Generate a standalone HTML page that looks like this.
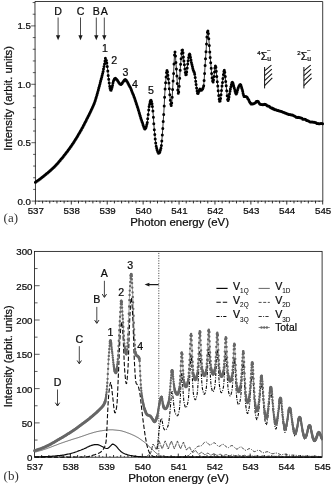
<!DOCTYPE html>
<html><head><meta charset="utf-8"><title>Figure</title>
<style>
html,body{margin:0;padding:0;background:#fff;}
body{width:333px;height:487px;overflow:hidden;}
svg{display:block;}
svg text{font-family:"Liberation Sans",sans-serif;fill:#0c0c0c;stroke:#0c0c0c;stroke-width:0.24px;}
svg text.serif{font-family:"Liberation Serif",serif;stroke-width:0;fill:#333;}
</style></head><body>
<svg width="333" height="487" viewBox="0 0 333 487">
<rect width="333" height="487" fill="#fff"/>
<path d="M34.95 1.5L322.7 1.5L322.8 201.1L35.5 201.1Z" fill="none" stroke="#1a1a1a" stroke-width="0.85"/>
<path d="M35.40 200.80V204.50M38.99 200.80V202.00M42.58 200.80V203.40M46.17 200.80V202.00M49.77 200.80V203.40M53.36 200.80V202.00M56.95 200.80V203.40M60.54 200.80V202.00M64.13 200.80V203.40M67.72 200.80V202.00M71.31 200.80V204.50M74.90 200.80V202.00M78.50 200.80V203.40M82.09 200.80V202.00M85.68 200.80V203.40M89.27 200.80V202.00M92.86 200.80V203.40M96.45 200.80V202.00M100.04 200.80V203.40M103.63 200.80V202.00M107.22 200.80V204.50M110.82 200.80V202.00M114.41 200.80V203.40M118.00 200.80V202.00M121.59 200.80V203.40M125.18 200.80V202.00M128.77 200.80V203.40M132.36 200.80V202.00M135.96 200.80V203.40M139.55 200.80V202.00M143.14 200.80V204.50M146.73 200.80V202.00M150.32 200.80V203.40M153.91 200.80V202.00M157.50 200.80V203.40M161.09 200.80V202.00M164.69 200.80V203.40M168.28 200.80V202.00M171.87 200.80V203.40M175.46 200.80V202.00M179.05 200.80V204.50M182.64 200.80V202.00M186.23 200.80V203.40M189.82 200.80V202.00M193.42 200.80V203.40M197.01 200.80V202.00M200.60 200.80V203.40M204.19 200.80V202.00M207.78 200.80V203.40M211.37 200.80V202.00M214.96 200.80V204.50M218.55 200.80V202.00M222.15 200.80V203.40M225.74 200.80V202.00M229.33 200.80V203.40M232.92 200.80V202.00M236.51 200.80V203.40M240.10 200.80V202.00M243.69 200.80V203.40M247.28 200.80V202.00M250.88 200.80V204.50M254.47 200.80V202.00M258.06 200.80V203.40M261.65 200.80V202.00M265.24 200.80V203.40M268.83 200.80V202.00M272.42 200.80V203.40M276.01 200.80V202.00M279.61 200.80V203.40M283.20 200.80V202.00M286.79 200.80V204.50M290.38 200.80V202.00M293.97 200.80V203.40M297.56 200.80V202.00M301.15 200.80V203.40M304.74 200.80V202.00M308.33 200.80V203.40M311.93 200.80V202.00M315.52 200.80V203.40M319.11 200.80V202.00M322.70 200.80V204.50" stroke="#1a1a1a" stroke-width="0.9" fill="none"/>
<path d="M31.60 201.10H35.80M33.17 189.42H35.77M33.14 177.74H35.74M33.10 166.06H35.70M33.07 154.38H35.67M31.44 142.70H35.64M33.01 131.02H35.61M32.98 119.34H35.58M32.94 107.66H35.54M32.91 95.98H35.51M31.28 84.30H35.48M32.85 72.62H35.45M32.81 60.94H35.41M32.78 49.26H35.38M32.75 37.58H35.35M31.12 25.90H35.32M32.69 14.22H35.29M32.65 2.54H35.25" stroke="#1a1a1a" stroke-width="0.7" fill="none"/>
<text x="35.80" y="214.00" font-size="9.7" text-anchor="middle" >537</text>
<text x="71.71" y="214.00" font-size="9.7" text-anchor="middle" >538</text>
<text x="107.62" y="214.00" font-size="9.7" text-anchor="middle" >539</text>
<text x="143.54" y="214.00" font-size="9.7" text-anchor="middle" >540</text>
<text x="179.45" y="214.00" font-size="9.7" text-anchor="middle" >541</text>
<text x="215.36" y="214.00" font-size="9.7" text-anchor="middle" >542</text>
<text x="251.28" y="214.00" font-size="9.7" text-anchor="middle" >543</text>
<text x="287.19" y="214.00" font-size="9.7" text-anchor="middle" >544</text>
<text x="323.10" y="214.00" font-size="9.7" text-anchor="middle" >545</text>
<text x="30.90" y="204.50" font-size="9.7" text-anchor="end" >0.0</text>
<text x="30.90" y="146.10" font-size="9.7" text-anchor="end" >0.5</text>
<text x="30.90" y="87.70" font-size="9.7" text-anchor="end" >1.0</text>
<text x="30.90" y="29.30" font-size="9.7" text-anchor="end" >1.5</text>
<text x="179.60" y="226.40" font-size="11.4" text-anchor="middle" >Photon energy (eV)</text>
<text transform="translate(11.7,98.4) rotate(-90)" font-size="11.3" text-anchor="middle">Intensity (arbit. units)</text>
<text x="3.6" y="222.2" class="serif" font-size="13.2" textLength="14.4" lengthAdjust="spacingAndGlyphs">(a)</text>
<path d="M35.4 182.3L35.9 182.0L36.3 181.6L36.8 181.3L37.3 181.0L37.7 180.6L38.2 180.3L38.7 179.9L39.2 179.6L39.6 179.2L40.1 178.9L40.6 178.5L41.0 178.2L41.5 177.8L42.0 177.4L42.4 177.1L42.9 176.7L43.4 176.3L43.9 175.9L44.3 175.6L44.8 175.2L45.3 174.8L45.7 174.4L46.2 174.0L46.7 173.6L47.1 173.2L47.6 172.9L48.1 172.5L48.6 172.1L49.0 171.7L49.5 171.3L50.0 170.8L50.4 170.4L50.9 170.0L51.4 169.6L51.8 169.2L52.3 168.7L52.8 168.3L53.3 167.8L53.7 167.4L54.2 166.9L54.7 166.4L55.1 165.9L55.6 165.5L56.1 165.0L56.5 164.5L57.0 163.9L57.5 163.4L58.0 162.9L58.4 162.4L58.9 161.8L59.4 161.3L59.8 160.7L60.3 160.2L60.8 159.6L61.2 159.1L61.7 158.5L62.2 157.9L62.7 157.4L63.1 156.8L63.6 156.2L64.1 155.6L64.5 155.0L65.0 154.4L65.5 153.8L65.9 153.2L66.4 152.6L66.9 152.0L67.4 151.4L67.8 150.7L68.3 150.1L68.8 149.5L69.2 148.8L69.7 148.2L70.2 147.5L70.6 146.8L71.1 146.2L71.6 145.5L72.1 144.8L72.5 144.1L73.0 143.4L73.5 142.7L73.9 142.0L74.4 141.2L74.9 140.5L75.3 139.8L75.8 139.0L76.3 138.3L76.8 137.5L77.2 136.7L77.7 135.9L78.2 135.1L78.6 134.3L79.1 133.5L79.6 132.7L80.0 131.9L80.5 131.1L81.0 130.2L81.5 129.4L81.9 128.6L82.4 127.7L82.9 126.9L83.3 126.0L83.8 125.1L84.3 124.2L84.7 123.3L85.2 122.3L85.7 121.4L86.2 120.5L86.6 119.5L87.1 118.6L87.6 117.7L88.0 116.8L88.5 115.8L89.0 114.9L89.4 113.9L89.9 113.0L90.4 112.0L90.9 111.0L91.3 110.0L91.8 109.1L92.3 108.1L92.7 107.0L93.2 106.0L93.7 104.8L94.1 103.7L94.6 102.4L95.1 101.0L95.6 99.6L96.0 98.1L96.5 96.5L97.0 94.8L97.4 93.2L97.9 91.5L98.4 89.8L98.8 88.0L99.3 86.2L99.8 84.4L100.3 82.6L100.7 80.8L101.2 79.1L101.7 77.3L102.1 75.5L102.6 73.5L103.1 71.4L103.5 69.1L104.0 66.6L104.5 64.0L105.0 61.0L105.4 58.3L106.4 60.4L106.8 62.9L107.3 66.6L107.8 71.0L108.2 75.4L108.7 79.2L109.2 83.0L109.7 86.3L110.1 88.5L110.6 89.9L111.1 90.2L111.5 89.1L112.0 87.6L112.5 85.5L112.9 83.1L113.4 81.2L113.9 80.1L114.4 79.1L114.8 78.4L115.3 78.2L115.8 78.4L116.2 78.9L116.7 79.5L117.2 80.1L117.6 80.7L118.1 81.4L118.6 82.2L119.1 83.0L119.5 83.5L120.0 83.9L120.5 84.3L120.9 84.5L121.9 83.8L122.3 83.0L122.8 82.2L123.3 81.6L123.8 81.0L124.2 80.3L124.7 79.8L125.2 79.5L126.1 80.1L126.6 80.9L127.0 81.6L127.5 82.3L128.0 83.2L128.5 84.2L128.9 85.1L129.4 85.9L129.9 86.7L130.3 87.5L130.8 88.5L131.3 89.7L131.7 91.0L132.2 92.2L132.7 93.4L133.2 94.5L133.6 95.6L134.1 96.9L134.6 98.2L135.0 99.6L135.5 101.0L136.0 102.4L136.4 103.8L136.9 105.3L137.4 106.8L137.9 108.3L138.3 109.8L138.8 111.3L139.3 112.9L139.7 114.5L140.2 116.1L140.7 117.7L141.1 119.2L141.6 120.6L142.1 121.9L142.6 123.3L143.0 124.8L143.5 126.3L144.0 127.5L144.4 128.4L144.9 129.0L145.8 127.9L146.3 126.4L146.8 124.6L147.3 122.4L147.7 118.8L148.2 114.4L148.7 110.1L149.1 106.6L149.6 104.2L150.1 102.1L150.5 100.6L151.0 100.3L151.5 101.5L152.0 103.8L152.4 106.5L152.9 111.1L153.4 117.2L153.8 123.8L154.3 129.7L154.8 134.4L155.2 138.9L155.7 143.0L156.2 146.2L156.7 148.3L157.1 149.9L157.6 151.4L158.1 152.5L158.5 153.2L159.5 152.8L159.9 151.7L160.4 150.1L160.9 148.2L161.4 145.5L161.8 141.0L162.3 135.1L162.8 128.4L163.2 121.5L163.7 114.5L164.2 106.1L164.6 97.2L165.1 88.9L165.6 82.7L166.1 77.0L166.5 72.4L167.0 70.5L167.5 71.9L167.9 75.2L168.4 79.0L168.9 83.1L169.3 88.7L169.8 94.7L170.3 100.2L170.8 104.1L171.2 105.5L171.7 103.0L172.2 97.2L172.6 89.4L173.1 81.0L173.6 73.4L174.0 63.9L174.5 55.0L175.0 52.1L175.5 56.0L175.9 62.6L176.4 68.9L176.9 75.9L177.3 83.5L177.8 89.9L178.3 93.3L178.7 92.0L179.2 86.2L179.7 78.2L180.2 70.2L180.6 64.3L181.1 58.7L181.6 53.5L182.0 50.2L182.5 50.0L183.0 52.7L183.4 57.0L183.9 61.1L184.4 64.8L184.9 68.9L185.3 72.6L185.8 74.8L186.3 74.6L186.7 72.0L187.2 68.0L187.7 63.9L188.1 60.8L188.6 57.6L189.1 54.9L189.6 53.9L190.0 55.0L190.5 57.2L191.0 59.9L191.4 62.4L191.9 64.5L192.4 66.6L192.8 68.6L193.3 70.3L193.8 71.5L194.3 72.6L194.7 74.3L195.2 77.5L195.7 81.3L196.1 84.6L196.6 88.0L197.1 91.1L197.5 93.2L198.0 93.4L198.5 92.6L199.0 91.3L199.4 90.0L199.9 89.1L200.8 89.7L201.3 90.2L201.8 90.0L202.2 89.5L202.7 88.7L203.2 87.6L203.7 85.8L204.1 80.6L204.6 73.4L205.1 65.5L205.5 58.7L206.0 51.7L206.5 44.0L206.9 37.0L207.4 32.2L207.9 30.9L208.4 33.5L208.8 38.7L209.3 45.4L209.8 52.1L210.2 57.6L210.7 62.7L211.2 68.3L211.6 73.6L212.1 78.1L212.6 81.1L213.1 82.0L213.5 80.1L214.0 76.4L214.5 71.9L214.9 68.0L215.4 66.1L215.9 67.2L216.3 71.2L216.8 76.5L217.3 81.8L217.8 86.0L218.2 90.8L218.7 95.5L219.2 99.3L219.6 101.3L220.1 101.0L220.6 98.5L221.0 94.8L221.5 90.4L222.0 86.1L222.5 82.5L222.9 78.5L223.4 74.5L223.9 71.4L224.3 70.3L224.8 72.3L225.3 76.6L225.7 81.4L226.2 85.7L226.7 90.7L227.2 95.8L227.6 99.4L228.1 100.5L228.6 99.3L229.0 96.9L229.5 94.1L230.0 91.3L230.4 89.0L230.9 86.8L231.4 84.5L231.9 82.8L232.3 82.2L232.8 82.8L233.3 84.3L233.7 86.1L234.2 87.7L234.7 89.5L235.1 91.4L235.6 93.1L236.1 94.0L236.6 93.6L237.0 92.2L237.5 90.3L238.0 88.6L238.4 87.4L238.9 86.3L239.4 85.4L239.8 84.8L240.3 84.4L240.8 84.9L241.3 86.4L241.7 88.1L242.2 89.5L242.7 91.3L243.1 93.4L243.6 95.3L244.1 96.4L245.0 96.5L245.5 96.6L246.4 96.8L246.9 97.1L247.4 97.8L247.8 98.7L248.3 99.2L248.8 99.9L249.2 101.2L249.7 101.9L250.2 102.7L250.7 103.4L251.1 103.9L251.6 103.8L252.5 104.0L253.5 103.7L254.4 103.2L255.4 102.7L255.8 102.2L256.3 101.5L256.8 101.6L257.2 101.3L258.2 101.6L258.6 102.3L259.1 103.1L259.6 103.7L260.1 104.3L261.0 104.4L261.9 104.6L262.9 104.7L263.8 104.4L264.8 104.3L265.7 104.6L266.2 104.8L266.6 105.3L267.1 105.7L267.6 106.0L268.0 106.1L268.5 106.3L269.0 106.3L269.5 106.6L269.9 107.0L270.4 107.6L270.9 107.8L271.3 107.9L271.8 108.1L272.3 108.5L272.7 108.3L273.2 108.5L273.7 109.3L274.2 109.1L274.6 109.3L275.1 109.7L275.6 109.7L276.5 110.0L277.4 110.6L278.4 110.5L279.3 111.0L280.3 111.2L281.2 111.6L282.1 111.8L283.1 112.3L284.0 112.4L285.0 113.1L285.9 113.3L286.8 113.7L287.8 114.1L288.7 114.4L289.7 114.6L290.6 114.7L291.5 115.0L292.5 115.1L293.4 115.6L294.4 116.0L295.3 116.6L296.2 117.2L297.2 117.5L298.1 117.3L299.1 117.6L300.0 117.7L300.9 118.0L301.9 118.3L302.8 119.2L303.8 119.3L304.7 119.3L305.6 119.6L306.6 120.4L307.5 120.6L308.5 121.0L309.4 121.5L310.3 121.9L311.3 121.9L312.2 121.9L313.2 122.2L314.1 122.3L315.0 122.5L316.0 122.8L316.9 123.4L317.9 123.6L318.8 123.7L319.7 123.8L320.7 123.6L321.6 123.4L322.6 123.7" stroke="#000" stroke-width="0.8" fill="none" stroke-linejoin="round" />
<path d="M35.4 182.3h0M35.9 182.0h0M36.3 181.6h0M36.8 181.3h0M37.3 181.0h0M37.7 180.6h0M38.2 180.3h0M38.7 179.9h0M39.2 179.6h0M39.6 179.2h0M40.1 178.9h0M40.6 178.5h0M41.0 178.2h0M41.5 177.8h0M42.0 177.4h0M42.4 177.1h0M42.9 176.7h0M43.4 176.3h0M43.9 175.9h0M44.3 175.6h0M44.8 175.2h0M45.3 174.8h0M45.7 174.4h0M46.2 174.0h0M46.7 173.6h0M47.1 173.2h0M47.6 172.9h0M48.1 172.5h0M48.6 172.1h0M49.0 171.7h0M49.5 171.3h0M50.0 170.8h0M50.4 170.4h0M50.9 170.0h0M51.4 169.6h0M51.8 169.2h0M52.3 168.7h0M52.8 168.3h0M53.3 167.8h0M53.7 167.4h0M54.2 166.9h0M54.7 166.4h0M55.1 165.9h0M55.6 165.5h0M56.1 165.0h0M56.5 164.5h0M57.0 163.9h0M57.5 163.4h0M58.0 162.9h0M58.4 162.4h0M58.9 161.8h0M59.4 161.3h0M59.8 160.7h0M60.3 160.2h0M60.8 159.6h0M61.2 159.1h0M61.7 158.5h0M62.2 157.9h0M62.7 157.4h0M63.1 156.8h0M63.6 156.2h0M64.1 155.6h0M64.5 155.0h0M65.0 154.4h0M65.5 153.8h0M65.9 153.2h0M66.4 152.6h0M66.9 152.0h0M67.4 151.4h0M67.8 150.7h0M68.3 150.1h0M68.8 149.5h0M69.2 148.8h0M69.7 148.2h0M70.2 147.5h0M70.6 146.8h0M71.1 146.2h0M71.6 145.5h0M72.1 144.8h0M72.5 144.1h0M73.0 143.4h0M73.5 142.7h0M73.9 142.0h0M74.4 141.2h0M74.9 140.5h0M75.3 139.8h0M75.8 139.0h0M76.3 138.3h0M76.8 137.5h0M77.2 136.7h0M77.7 135.9h0M78.2 135.1h0M78.6 134.3h0M79.1 133.5h0M79.6 132.7h0M80.0 131.9h0M80.5 131.1h0M81.0 130.2h0M81.5 129.4h0M81.9 128.6h0M82.4 127.7h0M82.9 126.9h0M83.3 126.0h0M83.8 125.1h0M84.3 124.2h0M84.7 123.3h0M85.2 122.3h0M85.7 121.4h0M86.2 120.5h0M86.6 119.5h0M87.1 118.6h0M87.6 117.7h0M88.0 116.8h0M88.5 115.8h0M89.0 114.9h0M89.4 113.9h0M89.9 113.0h0M90.4 112.0h0M90.9 111.0h0M91.3 110.0h0M91.8 109.1h0M92.3 108.1h0M92.7 107.0h0M93.2 106.0h0M93.7 104.8h0M94.1 103.7h0M94.6 102.4h0M95.1 101.0h0M95.6 99.6h0M96.0 98.1h0M96.5 96.5h0M97.0 94.8h0M97.4 93.2h0M97.9 91.5h0M98.4 89.8h0M98.8 88.0h0M99.3 86.2h0M99.8 84.4h0M100.3 82.6h0M100.7 80.8h0M101.2 79.1h0M101.7 77.3h0M102.1 75.5h0M102.6 73.5h0M103.1 71.4h0M103.5 69.1h0M104.0 66.6h0M104.5 64.0h0M105.0 61.0h0M105.4 58.3h0M106.4 60.4h0M106.8 62.9h0M107.3 66.6h0M107.8 71.0h0M108.2 75.4h0M108.7 79.2h0M109.2 83.0h0M109.7 86.3h0M110.1 88.5h0M110.6 89.9h0M111.1 90.2h0M111.5 89.1h0M112.0 87.6h0M112.5 85.5h0M112.9 83.1h0M113.4 81.2h0M113.9 80.1h0M114.4 79.1h0M114.8 78.4h0M115.3 78.2h0M115.8 78.4h0M116.2 78.9h0M116.7 79.5h0M117.2 80.1h0M117.6 80.7h0M118.1 81.4h0M118.6 82.2h0M119.1 83.0h0M119.5 83.5h0M120.0 83.9h0M120.5 84.3h0M120.9 84.5h0M121.9 83.8h0M122.3 83.0h0M122.8 82.2h0M123.3 81.6h0M123.8 81.0h0M124.2 80.3h0M124.7 79.8h0M125.2 79.5h0M126.1 80.1h0M126.6 80.9h0M127.0 81.6h0M127.5 82.3h0M128.0 83.2h0M128.5 84.2h0M128.9 85.1h0M129.4 85.9h0M129.9 86.7h0M130.3 87.5h0M130.8 88.5h0M131.3 89.7h0M131.7 91.0h0M132.2 92.2h0M132.7 93.4h0M133.2 94.5h0M133.6 95.6h0M134.1 96.9h0M134.6 98.2h0M135.0 99.6h0M135.5 101.0h0M136.0 102.4h0M136.4 103.8h0M136.9 105.3h0M137.4 106.8h0M137.9 108.3h0M138.3 109.8h0M138.8 111.3h0M139.3 112.9h0M139.7 114.5h0M140.2 116.1h0M140.7 117.7h0M141.1 119.2h0M141.6 120.6h0M142.1 121.9h0M142.6 123.3h0M143.0 124.8h0M143.5 126.3h0M144.0 127.5h0M144.4 128.4h0M144.9 129.0h0M145.8 127.9h0M146.3 126.4h0M146.8 124.6h0M147.3 122.4h0M147.7 118.8h0M148.2 114.4h0M148.7 110.1h0M149.1 106.6h0M149.6 104.2h0M150.1 102.1h0M150.5 100.6h0M151.0 100.3h0M151.5 101.5h0M152.0 103.8h0M152.4 106.5h0M152.9 111.1h0M153.4 117.2h0M153.8 123.8h0M154.3 129.7h0M154.8 134.4h0M155.2 138.9h0M155.7 143.0h0M156.2 146.2h0M156.7 148.3h0M157.1 149.9h0M157.6 151.4h0M158.1 152.5h0M158.5 153.2h0M159.5 152.8h0M159.9 151.7h0M160.4 150.1h0M160.9 148.2h0M161.4 145.5h0M161.8 141.0h0M162.3 135.1h0M162.8 128.4h0M163.2 121.5h0M163.7 114.5h0M164.2 106.1h0M164.6 97.2h0M165.1 88.9h0M165.6 82.7h0M166.1 77.0h0M166.5 72.4h0M167.0 70.5h0M167.5 71.9h0M167.9 75.2h0M168.4 79.0h0M168.9 83.1h0M169.3 88.7h0M169.8 94.7h0M170.3 100.2h0M170.8 104.1h0M171.2 105.5h0M171.7 103.0h0M172.2 97.2h0M172.6 89.4h0M173.1 81.0h0M173.6 73.4h0M174.0 63.9h0M174.5 55.0h0M175.0 52.1h0M175.5 56.0h0M175.9 62.6h0M176.4 68.9h0M176.9 75.9h0M177.3 83.5h0M177.8 89.9h0M178.3 93.3h0M178.7 92.0h0M179.2 86.2h0M179.7 78.2h0M180.2 70.2h0M180.6 64.3h0M181.1 58.7h0M181.6 53.5h0M182.0 50.2h0M182.5 50.0h0M183.0 52.7h0M183.4 57.0h0M183.9 61.1h0M184.4 64.8h0M184.9 68.9h0M185.3 72.6h0M185.8 74.8h0M186.3 74.6h0M186.7 72.0h0M187.2 68.0h0M187.7 63.9h0M188.1 60.8h0M188.6 57.6h0M189.1 54.9h0M189.6 53.9h0M190.0 55.0h0M190.5 57.2h0M191.0 59.9h0M191.4 62.4h0M191.9 64.5h0M192.4 66.6h0M192.8 68.6h0M193.3 70.3h0M193.8 71.5h0M194.3 72.6h0M194.7 74.3h0M195.2 77.5h0M195.7 81.3h0M196.1 84.6h0M196.6 88.0h0M197.1 91.1h0M197.5 93.2h0M198.0 93.4h0M198.5 92.6h0M199.0 91.3h0M199.4 90.0h0M199.9 89.1h0M200.8 89.7h0M201.3 90.2h0M201.8 90.0h0M202.2 89.5h0M202.7 88.7h0M203.2 87.6h0M203.7 85.8h0M204.1 80.6h0M204.6 73.4h0M205.1 65.5h0M205.5 58.7h0M206.0 51.7h0M206.5 44.0h0M206.9 37.0h0M207.4 32.2h0M207.9 30.9h0M208.4 33.5h0M208.8 38.7h0M209.3 45.4h0M209.8 52.1h0M210.2 57.6h0M210.7 62.7h0M211.2 68.3h0M211.6 73.6h0M212.1 78.1h0M212.6 81.1h0M213.1 82.0h0M213.5 80.1h0M214.0 76.4h0M214.5 71.9h0M214.9 68.0h0M215.4 66.1h0M215.9 67.2h0M216.3 71.2h0M216.8 76.5h0M217.3 81.8h0M217.8 86.0h0M218.2 90.8h0M218.7 95.5h0M219.2 99.3h0M219.6 101.3h0M220.1 101.0h0M220.6 98.5h0M221.0 94.8h0M221.5 90.4h0M222.0 86.1h0M222.5 82.5h0M222.9 78.5h0M223.4 74.5h0M223.9 71.4h0M224.3 70.3h0M224.8 72.3h0M225.3 76.6h0M225.7 81.4h0M226.2 85.7h0M226.7 90.7h0M227.2 95.8h0M227.6 99.4h0M228.1 100.5h0M228.6 99.3h0M229.0 96.9h0M229.5 94.1h0M230.0 91.3h0M230.4 89.0h0M230.9 86.8h0M231.4 84.5h0M231.9 82.8h0M232.3 82.2h0M232.8 82.8h0M233.3 84.3h0M233.7 86.1h0M234.2 87.7h0M234.7 89.5h0M235.1 91.4h0M235.6 93.1h0M236.1 94.0h0M236.6 93.6h0M237.0 92.2h0M237.5 90.3h0M238.0 88.6h0M238.4 87.4h0M238.9 86.3h0M239.4 85.4h0M239.8 84.8h0M240.3 84.4h0M240.8 84.9h0M241.3 86.4h0M241.7 88.1h0M242.2 89.5h0M242.7 91.3h0M243.1 93.4h0M243.6 95.3h0M244.1 96.4h0M245.0 96.5h0M245.5 96.6h0M246.4 96.8h0M246.9 97.1h0M247.4 97.8h0M247.8 98.7h0M248.3 99.2h0M248.8 99.9h0M249.2 101.2h0M249.7 101.9h0M250.2 102.7h0M250.7 103.4h0M251.1 103.9h0M251.6 103.8h0M252.5 104.0h0M253.5 103.7h0M254.4 103.2h0M255.4 102.7h0M255.8 102.2h0M256.3 101.5h0M256.8 101.6h0M257.2 101.3h0M258.2 101.6h0M258.6 102.3h0M259.1 103.1h0M259.6 103.7h0M260.1 104.3h0M261.0 104.4h0M261.9 104.6h0M262.9 104.7h0M263.8 104.4h0M264.8 104.3h0M265.7 104.6h0M266.2 104.8h0M266.6 105.3h0M267.1 105.7h0M267.6 106.0h0M268.0 106.1h0M268.5 106.3h0M269.0 106.3h0M269.5 106.6h0M269.9 107.0h0M270.4 107.6h0M270.9 107.8h0M271.3 107.9h0M271.8 108.1h0M272.3 108.5h0M272.7 108.3h0M273.2 108.5h0M273.7 109.3h0M274.2 109.1h0M274.6 109.3h0M275.1 109.7h0M275.6 109.7h0M276.5 110.0h0M277.4 110.6h0M278.4 110.5h0M279.3 111.0h0M280.3 111.2h0M281.2 111.6h0M282.1 111.8h0M283.1 112.3h0M284.0 112.4h0M285.0 113.1h0M285.9 113.3h0M286.8 113.7h0M287.8 114.1h0M288.7 114.4h0M289.7 114.6h0M290.6 114.7h0M291.5 115.0h0M292.5 115.1h0M293.4 115.6h0M294.4 116.0h0M295.3 116.6h0M296.2 117.2h0M297.2 117.5h0M298.1 117.3h0M299.1 117.6h0M300.0 117.7h0M300.9 118.0h0M301.9 118.3h0M302.8 119.2h0M303.8 119.3h0M304.7 119.3h0M305.6 119.6h0M306.6 120.4h0M307.5 120.6h0M308.5 121.0h0M309.4 121.5h0M310.3 121.9h0M311.3 121.9h0M312.2 121.9h0M313.2 122.2h0M314.1 122.3h0M315.0 122.5h0M316.0 122.8h0M316.9 123.4h0M317.9 123.6h0M318.8 123.7h0M319.7 123.8h0M320.7 123.6h0M321.6 123.4h0M322.6 123.7h0" stroke="#000" stroke-width="3.0" stroke-linecap="round" fill="none"/>
<text x="58.10" y="14.50" font-size="10.6" text-anchor="middle" >D</text>
<path d="M58.10 17.50V36.20" stroke="#1a1a1a" stroke-width="0.8" fill="none"/>
<path d="M55.95 35.20L60.25 35.20L58.10 40.20Z" fill="#1a1a1a"/>
<text x="80.50" y="14.50" font-size="10.6" text-anchor="middle" >C</text>
<path d="M80.50 17.50V36.20" stroke="#1a1a1a" stroke-width="0.8" fill="none"/>
<path d="M78.35 35.20L82.65 35.20L80.50 40.20Z" fill="#1a1a1a"/>
<text x="96.30" y="14.50" font-size="10.6" text-anchor="middle" >B</text>
<path d="M96.30 17.50V36.20" stroke="#1a1a1a" stroke-width="0.8" fill="none"/>
<path d="M94.15 35.20L98.45 35.20L96.30 40.20Z" fill="#1a1a1a"/>
<text x="104.30" y="14.50" font-size="10.6" text-anchor="middle" >A</text>
<path d="M104.30 17.50V36.20" stroke="#1a1a1a" stroke-width="0.8" fill="none"/>
<path d="M102.15 35.20L106.45 35.20L104.30 40.20Z" fill="#1a1a1a"/>
<text x="105.00" y="51.70" font-size="10.6" text-anchor="middle" >1</text>
<text x="114.20" y="63.60" font-size="10.6" text-anchor="middle" >2</text>
<text x="125.50" y="76.00" font-size="10.6" text-anchor="middle" >3</text>
<text x="135.00" y="88.20" font-size="10.6" text-anchor="middle" >4</text>
<text x="151.00" y="93.60" font-size="10.6" text-anchor="middle" >5</text>
<path d="M264.60 67V88.4" stroke="#111" stroke-width="1.0"/>
<path d="M264.6 70.8l6.8 -5.7M264.6 75.6l7.2 -6.4M264.6 80.6l7.5 -7M264.6 85.6l7.7 -7.8" stroke="#111" stroke-width="1.05"/>
<path d="M303.90 67V88.4" stroke="#111" stroke-width="1.0"/>
<path d="M303.9 70.8l6.8 -5.7M303.9 75.6l7.2 -6.4M303.9 80.6l7.5 -7M303.9 85.6l7.7 -7.8" stroke="#111" stroke-width="1.05"/>
<text x="257.20" y="59.5" font-size="10.4" text-anchor="start"><tspan font-size="6" dy="-4.6">4</tspan><tspan dy="4.6" dx="0.3">Σ</tspan><tspan font-size="6.5" dy="-6.2" dx="-0.3">−</tspan><tspan font-size="6.8" dy="7.4" dx="-3.6">u</tspan></text>
<text x="297.20" y="59.5" font-size="10.4" text-anchor="start"><tspan font-size="6" dy="-4.6">2</tspan><tspan dy="4.6" dx="0.3">Σ</tspan><tspan font-size="6.5" dy="-6.2" dx="-0.3">−</tspan><tspan font-size="6.8" dy="7.4" dx="-3.6">u</tspan></text>
<rect x="34.45" y="251.4" width="287.65" height="205.80" fill="none" stroke="#1a1a1a" stroke-width="0.85"/>
<path d="M38.05 457.20v-1.0M41.64 457.20v-2.2M45.24 457.20v-1.0M48.83 457.20v-2.2M52.43 457.20v-1.0M56.02 457.20v-2.2M59.62 457.20v-1.0M63.22 457.20v-2.2M66.81 457.20v-1.0M70.41 457.20v-3.6M74.00 457.20v-1.0M77.60 457.20v-2.2M81.19 457.20v-1.0M84.79 457.20v-2.2M88.38 457.20v-1.0M91.98 457.20v-2.2M95.58 457.20v-1.0M99.17 457.20v-2.2M102.77 457.20v-1.0M106.36 457.20v-3.6M109.96 457.20v-1.0M113.55 457.20v-2.2M117.15 457.20v-1.0M120.75 457.20v-2.2M124.34 457.20v-1.0M127.94 457.20v-2.2M131.53 457.20v-1.0M135.13 457.20v-2.2M138.72 457.20v-1.0M142.32 457.20v-3.6M145.91 457.20v-1.0M149.51 457.20v-2.2M153.11 457.20v-1.0M156.70 457.20v-2.2M160.30 457.20v-1.0M163.89 457.20v-2.2M167.49 457.20v-1.0M171.08 457.20v-2.2M174.68 457.20v-1.0M178.28 457.20v-3.6M181.87 457.20v-1.0M185.47 457.20v-2.2M189.06 457.20v-1.0M192.66 457.20v-2.2M196.25 457.20v-1.0M199.85 457.20v-2.2M203.44 457.20v-1.0M207.04 457.20v-2.2M210.64 457.20v-1.0M214.23 457.20v-3.6M217.83 457.20v-1.0M221.42 457.20v-2.2M225.02 457.20v-1.0M228.61 457.20v-2.2M232.21 457.20v-1.0M235.81 457.20v-2.2M239.40 457.20v-1.0M243.00 457.20v-2.2M246.59 457.20v-1.0M250.19 457.20v-3.6M253.78 457.20v-1.0M257.38 457.20v-2.2M260.97 457.20v-1.0M264.57 457.20v-2.2M268.17 457.20v-1.0M271.76 457.20v-2.2M275.36 457.20v-1.0M278.95 457.20v-2.2M282.55 457.20v-1.0M286.14 457.20v-3.6M289.74 457.20v-1.0M293.34 457.20v-2.2M296.93 457.20v-1.0M300.53 457.20v-2.2M304.12 457.20v-1.0M307.72 457.20v-2.2M311.31 457.20v-1.0M314.91 457.20v-2.2M318.50 457.20v-1.0" stroke="#1a1a1a" stroke-width="0.9" fill="none"/>
<path d="M34.45 440.05h3.1M34.45 422.90h5.2M34.45 405.75h3.1M34.45 388.60h5.2M34.45 371.45h3.1M34.45 354.30h5.2M34.45 337.15h3.1M34.45 320.00h5.2M34.45 302.85h3.1M34.45 285.70h5.2M34.45 268.55h3.1" stroke="#1a1a1a" stroke-width="0.7" fill="none"/>
<text x="34.95" y="470.00" font-size="9.7" text-anchor="middle" >537</text>
<text x="70.91" y="470.00" font-size="9.7" text-anchor="middle" >538</text>
<text x="106.86" y="470.00" font-size="9.7" text-anchor="middle" >539</text>
<text x="142.82" y="470.00" font-size="9.7" text-anchor="middle" >540</text>
<text x="178.78" y="470.00" font-size="9.7" text-anchor="middle" >541</text>
<text x="214.73" y="470.00" font-size="9.7" text-anchor="middle" >542</text>
<text x="250.69" y="470.00" font-size="9.7" text-anchor="middle" >543</text>
<text x="286.64" y="470.00" font-size="9.7" text-anchor="middle" >544</text>
<text x="322.60" y="470.00" font-size="9.7" text-anchor="middle" >545</text>
<text x="32.50" y="461.20" font-size="9.7" text-anchor="end" >0</text>
<text x="32.50" y="426.90" font-size="9.7" text-anchor="end" >50</text>
<text x="32.50" y="392.60" font-size="9.7" text-anchor="end" >100</text>
<text x="32.50" y="358.30" font-size="9.7" text-anchor="end" >150</text>
<text x="32.50" y="324.00" font-size="9.7" text-anchor="end" >200</text>
<text x="32.50" y="289.70" font-size="9.7" text-anchor="end" >250</text>
<text x="32.50" y="255.40" font-size="9.7" text-anchor="end" >300</text>
<text x="178.60" y="482.40" font-size="11.6" text-anchor="middle" >Photon energy (eV)</text>
<text transform="translate(11.8,356.3) rotate(-90)" font-size="11" text-anchor="middle">Intensity (arbit. units)</text>
<text x="3.6" y="480.4" class="serif" font-size="13.2" textLength="15.2" lengthAdjust="spacingAndGlyphs">(b)</text>
<path d="M158.8 252.9V457.2" stroke="#222" stroke-width="0.9" stroke-dasharray="1 1.5"/>
<path d="M158.6 284.6H148.6" stroke="#1a1a1a" stroke-width="1.25"/><path d="M144.6 284.6l4.8 -1.9v3.8z" fill="#1a1a1a"/>
<path d="M34.6 452.2L35.6 451.9L36.6 451.7L37.6 451.4L38.6 451.1L39.6 450.8L40.6 450.6L41.6 450.3L42.6 450.0L43.6 449.6L44.6 449.3L45.6 449.0L46.6 448.7L47.6 448.3L48.6 447.9L49.6 447.6L50.6 447.2L51.6 446.8L52.6 446.4L53.6 446.0L54.6 445.6L55.6 445.3L56.6 444.9L57.6 444.5L58.6 444.1L59.6 443.7L60.6 443.4L61.6 443.0L62.6 442.7L63.6 442.3L64.6 442.0L65.6 441.6L66.6 441.3L67.6 441.0L68.6 440.6L69.6 440.3L70.6 440.0L71.6 439.6L72.6 439.3L73.6 439.0L74.6 438.7L75.6 438.4L76.6 438.1L77.6 437.8L78.6 437.5L79.6 437.1L80.6 436.8L81.6 436.5L82.6 436.1L83.6 435.8L84.6 435.4L85.6 435.1L86.6 434.7L87.6 434.4L88.6 434.0L89.6 433.7L90.6 433.4L91.6 433.1L92.6 432.8L93.6 432.5L94.6 432.2L95.6 432.0L96.6 431.7L97.6 431.5L98.6 431.3L99.6 431.1L100.6 430.9L101.6 430.8L102.6 430.6L103.6 430.5L104.6 430.3L105.6 430.2L106.6 430.1L107.6 430.0L108.6 429.9L109.6 429.8L110.6 429.8L111.6 429.8L112.6 429.8L113.6 429.9L114.6 430.0L115.6 430.1L116.6 430.2L117.6 430.3L118.6 430.4L119.6 430.5L120.6 430.7L121.6 430.9L122.6 431.2L123.6 431.5L124.6 431.8L125.6 432.1L126.6 432.5L127.6 432.9L128.6 433.2L129.6 433.6L130.6 434.0L131.6 434.4L132.6 434.9L133.6 435.3L134.6 435.8L135.6 436.3L136.6 436.9L137.6 437.4L138.6 438.0L139.6 438.7L140.6 439.4L141.6 440.1L142.6 440.8L143.6 441.6L144.6 442.3L145.6 443.2L146.6 444.1L147.6 445.0L148.6 446.0L149.6 447.0L150.6 448.0L151.6 448.9L152.6 449.9L153.6 450.7L154.6 451.7L155.6 452.6L156.6 453.4L157.6 454.2L158.6 454.8L159.6 455.2L160.6 455.6L161.6 456.0L162.6 456.3L163.6 456.6L164.6 456.7L165.6 456.7L166.6 456.7L167.6 456.7L168.6 456.7L169.6 456.7L170.6 456.7L171.6 456.8L172.6 456.8L173.6 456.8L174.6 456.8L175.6 456.8L176.6 456.8L177.6 456.8L178.6 456.8L179.6 456.8L180.6 456.8L181.6 456.8L182.6 456.8L183.6 456.8L184.6 456.9L185.6 456.9L186.6 456.9L187.6 456.9L188.6 456.9L189.6 456.9L190.6 456.9L191.6 456.9L192.6 456.9L193.6 456.9L194.6 456.9L195.6 456.9L196.6 456.9L197.6 456.9L198.6 456.9L199.6 457.0L200.6 457.0L201.6 457.0L202.6 457.0L203.6 457.0L204.6 457.0L205.6 457.0L206.6 457.0L207.6 457.0L208.6 457.0L209.6 457.0L210.6 457.0L211.6 457.0L212.6 457.0L213.6 457.0L214.6 457.0L215.6 457.0L216.6 457.0L217.6 457.0L218.6 457.0L219.6 457.0L220.6 457.1L221.6 457.1L222.6 457.1L223.6 457.1L224.6 457.1L225.6 457.1L226.6 457.1L227.6 457.1L228.6 457.1L229.6 457.1L230.6 457.1L231.6 457.1L232.6 457.1L233.6 457.1L234.6 457.1L235.6 457.1L236.6 457.1L237.6 457.1L238.6 457.1L239.6 457.1L240.6 457.1L241.6 457.1L242.6 457.1L243.6 457.1L244.6 457.1L245.6 457.1L246.6 457.1L247.6 457.1L248.6 457.1L249.6 457.1L250.6 457.1L251.6 457.1L252.6 457.1L253.6 457.1L254.6 457.2L255.6 457.2L256.6 457.2L257.6 457.2L258.6 457.2L259.6 457.2L260.6 457.2L261.6 457.2L262.6 457.2L263.6 457.2L264.6 457.2L265.6 457.2L266.6 457.2L267.6 457.2L268.6 457.2L269.6 457.2L270.6 457.2L271.6 457.2L272.6 457.2L273.6 457.2L274.6 457.2L275.6 457.2L276.6 457.2L277.6 457.2L278.6 457.2L279.6 457.2L280.6 457.2L281.6 457.2L282.6 457.2L283.6 457.2L284.6 457.2L285.6 457.2L286.6 457.2L287.6 457.2L288.6 457.2L289.6 457.2L290.6 457.2L291.6 457.2L292.6 457.2L293.6 457.2L294.6 457.2L295.6 457.2L296.6 457.2L297.6 457.2L298.6 457.2L299.6 457.2L300.6 457.2L301.6 457.2L302.6 457.2L303.6 457.2L304.6 457.2L305.6 457.2L306.6 457.2L307.6 457.2L308.6 457.2L309.6 457.2L310.6 457.2L311.6 457.2L312.6 457.2L313.6 457.2L314.6 457.2L315.6 457.2L316.6 457.2L317.6 457.2L318.6 457.2L319.6 457.2L320.6 457.2L321.6 457.2" stroke="#4a4a4a" stroke-width="0.85" fill="none" stroke-linejoin="round" />
<path d="M34.6 456.9L35.6 456.9L36.6 456.9L37.6 456.9L38.6 456.9L39.6 456.8L40.6 456.8L41.6 456.8L42.6 456.7L43.6 456.7L44.6 456.7L45.6 456.6L46.6 456.6L47.6 456.5L48.6 456.5L49.6 456.4L50.6 456.4L51.6 456.3L52.6 456.2L53.6 456.2L54.6 456.1L55.6 456.0L56.6 455.9L57.6 455.7L58.6 455.6L59.6 455.5L60.6 455.4L61.6 455.3L62.6 455.1L63.6 455.0L64.6 454.8L65.6 454.6L66.6 454.4L67.6 454.2L68.6 454.0L69.6 453.8L70.6 453.6L71.6 453.3L72.6 453.0L73.6 452.7L74.6 452.4L75.6 452.0L76.6 451.7L77.6 451.3L78.6 450.9L79.6 450.5L80.6 450.2L81.6 449.8L82.6 449.4L83.6 449.0L84.6 448.5L85.6 448.1L86.6 447.6L87.6 447.0L88.6 446.6L89.6 446.1L90.6 445.7L91.6 445.4L92.6 445.1L93.6 444.8L94.6 444.6L95.6 444.5L96.6 444.6L97.6 444.7L98.6 444.9L99.6 445.2L100.6 445.7L101.6 446.3L102.6 446.8L103.6 447.3L104.6 447.8L105.6 448.2L106.6 448.5L107.6 448.5L108.6 447.8L109.6 446.8L110.6 445.8L111.6 444.8L112.6 444.1L113.6 444.3L114.6 444.9L115.6 445.7L116.6 446.7L117.6 447.9L118.6 449.1L119.6 450.2L120.6 451.2L121.6 452.1L122.6 452.7L123.6 453.2L124.6 453.7L125.6 454.1L126.6 454.4L127.6 454.8L128.6 455.0L129.6 455.3L130.6 455.5L131.6 455.7L132.6 455.9L133.6 456.1L134.6 456.3L135.6 456.4L136.6 456.4L137.6 456.5L138.6 456.6L139.6 456.6L140.6 456.7L141.6 456.8L142.6 456.8L143.6 456.9L144.6 456.9L145.6 456.9L146.6 457.0L147.6 457.0L148.6 457.0L149.6 457.0L150.6 457.0L151.6 457.0L152.6 457.0L153.6 457.0L154.6 457.0L155.6 457.0L156.6 457.0L157.6 457.0L158.6 457.0L159.6 457.0L160.6 457.0L161.6 457.0L162.6 457.0L163.6 457.0L164.6 457.0L165.6 457.0L166.6 457.0L167.6 457.0L168.6 457.1L169.6 457.1L170.6 457.1L171.6 457.1L172.6 457.1L173.6 457.1L174.6 457.1L175.6 457.1L176.6 457.1L177.6 457.1L178.6 457.1L179.6 457.1L180.6 457.1L181.6 457.1L182.6 457.1L183.6 457.1L184.6 457.1L185.6 457.1L186.6 457.1L187.6 457.1L188.6 457.1L189.6 457.1L190.6 457.1L191.6 457.1L192.6 457.1L193.6 457.1L194.6 457.1L195.6 457.1L196.6 457.1L197.6 457.1L198.6 457.1L199.6 457.1L200.6 457.1L201.6 457.1L202.6 457.1L203.6 457.1L204.6 457.1L205.6 457.1L206.6 457.1L207.6 457.1L208.6 457.1L209.6 457.1L210.6 457.1L211.6 457.1L212.6 457.1L213.6 457.1L214.6 457.1L215.6 457.1L216.6 457.1L217.6 457.1L218.6 457.1L219.6 457.1L220.6 457.1L221.6 457.2L222.6 457.2L223.6 457.2L224.6 457.2L225.6 457.2L226.6 457.2L227.6 457.2L228.6 457.2L229.6 457.2L230.6 457.2L231.6 457.2L232.6 457.2L233.6 457.2L234.6 457.2L235.6 457.2L236.6 457.2L237.6 457.2L238.6 457.2L239.6 457.2L240.6 457.2L241.6 457.2L242.6 457.2L243.6 457.2L244.6 457.2L245.6 457.2L246.6 457.2L247.6 457.2L248.6 457.2L249.6 457.2L250.6 457.2L251.6 457.2L252.6 457.2L253.6 457.2L254.6 457.2L255.6 457.2L256.6 457.2L257.6 457.2L258.6 457.2L259.6 457.2L260.6 457.2L261.6 457.2L262.6 457.2L263.6 457.2L264.6 457.2L265.6 457.2L266.6 457.2L267.6 457.2L268.6 457.2L269.6 457.2L270.6 457.2L271.6 457.2L272.6 457.2L273.6 457.2L274.6 457.2L275.6 457.2L276.6 457.2L277.6 457.2L278.6 457.2L279.6 457.2L280.6 457.2L281.6 457.2L282.6 457.2L283.6 457.2L284.6 457.2L285.6 457.2L286.6 457.2L287.6 457.2L288.6 457.2L289.6 457.2L290.6 457.2L291.6 457.2L292.6 457.2L293.6 457.2L294.6 457.2L295.6 457.2L296.6 457.2L297.6 457.2L298.6 457.2L299.6 457.2L300.6 457.2L301.6 457.2L302.6 457.2L303.6 457.2L304.6 457.2L305.6 457.2L306.6 457.2L307.6 457.2L308.6 457.2L309.6 457.2L310.6 457.2L311.6 457.2L312.6 457.2L313.6 457.2L314.6 457.2L315.6 457.2L316.6 457.2L317.6 457.2L318.6 457.2L319.6 457.2L320.6 457.2L321.6 457.2" stroke="#0a0a0a" stroke-width="1.2" fill="none" stroke-linejoin="round" />
<path d="M146.0 457.2L146.2 457.0L146.5 456.8L146.8 456.5L147.0 456.2L147.2 455.9L147.5 455.7L147.8 455.4L148.0 455.2L148.2 455.0L148.5 454.9L148.8 454.7L149.0 454.6L149.2 454.6L149.5 454.6L149.8 454.6L150.0 454.6L150.2 454.0L150.5 453.3L150.8 452.6L151.0 451.8L151.2 450.9L151.5 449.9L151.8 449.0L152.0 448.0L152.2 447.0L152.5 446.0L152.8 445.0L153.0 444.0L153.2 444.3L153.5 444.6L153.8 444.9L154.0 445.3L154.2 445.6L154.5 446.0L154.8 446.5L155.0 446.9L155.2 447.4L155.5 448.0L155.8 448.5L156.0 449.2L156.2 448.8L156.5 448.1L156.8 447.4L157.0 446.7L157.2 446.0L157.5 445.3L157.8 444.6L158.0 443.9L158.2 443.3L158.5 442.6L158.8 441.9L159.0 441.2L159.2 441.3L159.5 442.0L159.8 442.7L160.0 443.3L160.2 444.0L160.5 444.7L160.8 445.3L161.0 446.0L161.2 446.7L161.5 447.3L161.8 448.0L162.0 448.7L162.2 448.8L162.5 448.1L162.8 447.4L163.0 446.7L163.2 446.1L163.5 445.4L163.8 444.7L164.0 444.0L164.2 443.3L164.5 442.7L164.8 442.0L165.0 441.3L165.2 440.9L165.5 441.6L165.8 442.2L166.0 442.9L166.2 443.6L166.5 444.3L166.8 444.9L167.0 445.6L167.2 446.3L167.5 447.0L167.8 447.6L168.0 448.3L168.2 449.0L168.5 448.3L168.8 447.6L169.0 446.9L169.2 446.3L169.5 445.6L169.8 444.9L170.0 444.2L170.2 443.6L170.5 442.9L170.8 442.2L171.0 441.5L171.2 440.9L171.5 441.3L171.8 442.0L172.0 442.6L172.2 443.3L172.5 444.0L172.8 444.7L173.0 445.3L173.2 446.0L173.5 446.7L173.8 447.4L174.0 448.0L174.2 448.7L174.5 448.6L174.8 447.9L175.0 447.2L175.2 446.6L175.5 445.9L175.8 445.2L176.0 444.6L176.2 443.9L176.5 443.3L176.8 442.6L177.0 442.0L177.2 441.3L177.5 441.2L177.8 441.9L178.0 442.5L178.2 443.2L178.5 443.9L178.8 444.5L179.0 445.2L179.2 445.8L179.5 446.5L179.8 447.2L180.0 447.8L180.2 448.5L180.5 448.9L180.8 448.2L181.0 447.6L181.2 447.0L181.5 446.4L181.8 445.8L182.0 445.3L182.2 444.7L182.5 444.2L182.8 443.6L183.0 443.1L183.2 442.6L183.5 442.1L183.8 442.9L184.0 443.6L184.2 444.3L184.5 444.9L184.8 445.6L185.0 446.3L185.2 446.9L185.5 447.6L185.8 448.2L186.0 448.8L186.2 449.4L186.5 450.0L186.8 449.8L187.0 449.4L187.2 449.0L187.5 448.7L187.8 448.4L188.0 448.1L188.2 447.8L188.5 447.6L188.8 447.4L189.0 447.2L189.2 447.1L189.5 447.0L189.8 447.3L190.0 447.9L190.2 448.5L190.5 449.0L190.8 449.5L191.0 450.0L191.2 450.5L191.5 450.9L191.8 451.3L192.0 451.7L192.2 452.0L192.5 452.4L192.8 452.5L193.0 452.3L193.2 452.2L193.5 452.0L193.8 451.8L194.0 451.6L194.2 451.5L194.5 451.3L194.8 451.2L195.0 451.0L195.2 450.8L195.5 450.7L195.8 450.6L196.0 450.9L196.2 451.3L196.5 451.6L196.8 451.9L197.0 452.2L197.2 452.5L197.5 452.8L197.8 453.1L198.0 453.4L198.2 453.7L198.5 454.0L198.8 454.3L199.0 454.1L199.2 453.9L199.5 453.7L199.8 453.5L200.0 453.3L200.2 453.1L200.5 453.0L200.8 452.8L201.0 452.6L201.2 452.4L201.5 452.3L201.8 452.1L202.0 452.3L202.2 452.5L202.5 452.8L202.8 453.0L203.0 453.3L203.2 453.5L203.5 453.7L203.8 454.0L204.0 454.2L204.2 454.4L204.5 454.6L204.8 454.8L205.0 454.8L205.2 454.7L205.5 454.5L205.8 454.3L206.0 454.2L206.2 454.0L206.5 453.8L206.8 453.7L207.0 453.5L207.2 453.4L207.5 453.3L207.8 453.1L208.0 453.1L208.2 453.3L208.5 453.5L208.8 453.7L209.0 453.9L209.2 454.1L209.5 454.3L209.8 454.5L210.0 454.6L210.2 454.8L210.5 455.0L210.8 455.2L211.0 455.3L211.2 455.1L211.5 455.0L211.8 454.9L212.0 454.7L212.2 454.6L212.5 454.4L212.8 454.3L213.0 454.2L213.2 454.1L213.5 453.9L213.8 453.8L214.0 453.7L214.2 453.9L214.5 454.0L214.8 454.2L215.0 454.3L215.2 454.5L215.5 454.6L215.8 454.8L216.0 454.9L216.2 455.1L216.5 455.2L216.8 455.4L217.0 455.5L217.2 455.5L217.5 455.3L217.8 455.2L218.0 455.1L218.2 455.0L218.5 454.9L218.8 454.8L219.0 454.6L219.2 454.5L219.5 454.4L219.8 454.3L220.0 454.2L220.2 454.2L220.5 454.4L220.8 454.5L221.0 454.7L221.2 454.8L221.5 454.9L221.8 455.1L222.0 455.2L222.2 455.3L222.5 455.4L222.8 455.6L223.0 455.7L223.2 455.7L223.5 455.6L223.8 455.5L224.0 455.4L224.2 455.3L224.5 455.2L224.8 455.1L225.0 455.0L225.2 454.9L225.5 454.8L225.8 454.7L226.0 454.6L226.2 454.6L226.5 454.7L226.8 454.8L227.0 454.9L227.2 455.0L227.5 455.2L227.8 455.3L228.0 455.4L228.2 455.5L228.5 455.6L228.8 455.7L229.0 455.8L229.2 455.9L229.5 455.8L229.8 455.7L230.0 455.7L230.2 455.6L230.5 455.5L230.8 455.4L231.0 455.3L231.2 455.2L231.5 455.1L231.8 455.0L232.0 454.9L232.2 454.8L232.5 454.9L232.8 455.0L233.0 455.1L233.2 455.2L233.5 455.3L233.8 455.4L234.0 455.5L234.2 455.6L234.5 455.7L234.8 455.8L235.0 455.9L235.2 456.0L235.5 456.0L235.8 455.9L236.0 455.9L236.2 455.8L236.5 455.7L236.8 455.6L237.0 455.5L237.2 455.4L237.5 455.4L237.8 455.3L238.0 455.2L238.2 455.1L238.5 455.1L238.8 455.2L239.0 455.3L239.2 455.4L239.5 455.5L239.8 455.6L240.0 455.7L240.2 455.8L240.5 455.9L240.8 456.0L241.0 456.0L241.2 456.1L241.5 456.2L241.8 456.1L242.0 456.0L242.2 456.0L242.5 455.9L242.8 455.8L243.0 455.7L243.2 455.7L243.5 455.6L243.8 455.5L244.0 455.4L244.2 455.4L244.5 455.3L244.8 455.4L245.0 455.5L245.2 455.6L245.5 455.6L245.8 455.7L246.0 455.8L246.2 455.9L246.5 456.0L246.8 456.0L247.0 456.1L247.2 456.2L247.5 456.3L247.8 456.2L248.0 456.2L248.2 456.1L248.5 456.0L248.8 456.0L249.0 455.9L249.2 455.8L249.5 455.8L249.8 455.7L250.0 455.6L250.2 455.6L250.5 455.5L250.8 455.5L251.0 455.6L251.2 455.7L251.5 455.8L251.8 455.8L252.0 455.9L252.2 456.0L252.5 456.1L252.8 456.1L253.0 456.2L253.2 456.3L253.5 456.4L253.8 456.4L254.0 456.3L254.2 456.2L254.5 456.2L254.8 456.1L255.0 456.1L255.2 456.0L255.5 455.9L255.8 455.9L256.0 455.8L256.2 455.8L256.5 455.7L256.8 455.7L257.0 455.7L257.2 455.8L257.5 455.9L257.8 455.9L258.0 456.0L258.2 456.1L258.5 456.2L258.8 456.2L259.0 456.3L259.2 456.4L259.5 456.4L259.8 456.5L260.0 456.4L260.2 456.4L260.5 456.3L260.8 456.3L261.0 456.2L261.2 456.1L261.5 456.1L261.8 456.0L262.0 456.0L262.2 455.9L262.5 455.9L262.8 455.8L263.0 455.9L263.2 455.9L263.5 456.0L263.8 456.0L264.0 456.1L264.2 456.2L264.5 456.2L264.8 456.3L265.0 456.4L265.2 456.4L265.5 456.5L265.8 456.5L266.0 456.5L266.2 456.5L266.5 456.4L266.8 456.4L267.0 456.3L267.2 456.3L267.5 456.2L267.8 456.2L268.0 456.1L268.2 456.1L268.5 456.0L268.8 456.0L269.0 456.0L269.2 456.0L269.5 456.1L269.8 456.1L270.0 456.2L270.2 456.3L270.5 456.3L270.8 456.4L271.0 456.4L271.2 456.5L271.5 456.5L271.8 456.6L272.0 456.6L272.2 456.6L272.5 456.5L272.8 456.5L273.0 456.4L273.2 456.4L273.5 456.3L273.8 456.3L274.0 456.2L274.2 456.2L274.5 456.2L274.8 456.1L275.0 456.1L275.2 456.1L275.5 456.2L275.8 456.2L276.0 456.3L276.2 456.3L276.5 456.4L276.8 456.4L277.0 456.5L277.2 456.5L277.5 456.6L277.8 456.6L278.0 456.7L278.2 456.7L278.5 456.6L278.8 456.6L279.0 456.5L279.2 456.5L279.5 456.5L279.8 456.4L280.0 456.4L280.2 456.3L280.5 456.3L280.8 456.2L281.0 456.2L281.2 456.2L281.5 456.3L281.8 456.3L282.0 456.4L282.2 456.4L282.5 456.5L282.8 456.5L283.0 456.6L283.2 456.6L283.5 456.6L283.8 456.7L284.0 456.7L284.2 456.7L284.5 456.7L284.8 456.7L285.0 456.6L285.2 456.6L285.5 456.6L285.8 456.5L286.0 456.5L286.2 456.4L286.5 456.4L286.8 456.4L287.0 456.3L287.2 456.3L287.5 456.4L287.8 456.4L288.0 456.5L288.2 456.5L288.5 456.5L288.8 456.6L289.0 456.6L289.2 456.7L289.5 456.7L289.8 456.7L290.0 456.8L290.2 456.8L290.5 456.8L290.8 456.8L291.0 456.7L291.2 456.7L291.5 456.7L291.8 456.6L292.0 456.6L292.2 456.6L292.5 456.5L292.8 456.5L293.0 456.5L293.2 456.4L293.5 456.5L293.8 456.5L294.0 456.5L294.2 456.6L294.5 456.6L294.8 456.6L295.0 456.7L295.2 456.7L295.5 456.8L295.8 456.8L296.0 456.8L296.2 456.9L296.5 456.9L296.8 456.8L297.0 456.8L297.2 456.8L297.5 456.7L297.8 456.7L298.0 456.7L298.2 456.7L298.5 456.6L298.8 456.6L299.0 456.6L299.2 456.5L299.5 456.5L299.8 456.6L300.0 456.6L300.2 456.6L300.5 456.7L300.8 456.7L301.0 456.7L301.2 456.8L301.5 456.8L301.8 456.8L302.0 456.9L302.2 456.9L302.5 456.9L302.8 456.9L303.0 456.9L303.2 456.8L303.5 456.8L303.8 456.8L304.0 456.8L304.2 456.7L304.5 456.7L304.8 456.7L305.0 456.7L305.2 456.7L305.5 456.6L305.8 456.7L306.0 456.7L306.2 456.7L306.5 456.7L306.8 456.8L307.0 456.8L307.2 456.8L307.5 456.9L307.8 456.9L308.0 456.9L308.2 456.9L308.5 457.0L308.8 457.0L309.0 456.9L309.2 456.9L309.5 456.9L309.8 456.9L310.0 456.9L310.2 456.8L310.5 456.8L310.8 456.8L311.0 456.8L311.2 456.7L311.5 456.7L311.8 456.7L312.0 456.8L312.2 456.8L312.5 456.8L312.8 456.8L313.0 456.9L313.2 456.9L313.5 456.9L313.8 456.9L314.0 457.0L314.2 457.0L314.5 457.0L314.8 457.0L315.0 457.0L315.2 457.0L315.5 457.0L315.8 456.9L316.0 456.9L316.2 456.9L316.5 456.9L316.8 456.9L317.0 456.9L317.2 456.8L317.5 456.8L317.8 456.8L318.0 456.8L318.2 456.9L318.5 456.9L318.8 456.9L319.0 456.9L319.2 456.9L319.5 457.0L319.8 457.0L320.0 457.0L320.2 457.0L320.5 457.0L320.8 457.1L321.0 457.0L321.2 457.0L321.5 457.0L321.8 457.0L322.0 457.0" stroke="#303030" stroke-width="0.95" fill="none" stroke-linejoin="round" stroke-dasharray="4 1" />
<path d="M180.0 457.0L180.5 457.0L181.0 457.0L181.5 457.0L182.0 456.9L182.5 456.9L183.0 456.9L183.5 456.8L184.0 456.8L184.5 456.7L185.0 456.7L185.5 456.6L186.0 456.5L186.5 456.4L187.0 456.2L187.5 456.0L188.0 455.8L188.5 455.5L189.0 455.1L189.5 454.7L190.0 454.2L190.5 453.6L191.0 453.0L191.5 452.4L192.0 451.9L192.5 451.4L193.0 451.0L193.5 450.5L194.0 450.0L194.5 449.4L195.0 448.8L195.5 448.3L196.0 447.8L196.5 447.3L197.0 446.9L197.5 446.6L198.0 446.4L198.5 446.2L199.0 446.2L199.5 446.1L200.0 446.1L200.5 446.0L201.0 445.9L201.5 445.6L202.0 445.2L202.5 444.7L203.0 444.1L203.5 443.4L204.0 442.8L204.5 442.3L205.0 441.9L205.5 441.8L206.0 441.9L206.5 442.1L207.0 442.6L207.5 443.1L208.0 443.6L208.5 444.1L209.0 444.5L209.5 444.8L210.0 444.9L210.5 444.8L211.0 444.6L211.5 444.3L212.0 443.9L212.5 443.5L213.0 443.2L213.5 442.9L214.0 442.8L214.5 442.9L215.0 443.1L215.5 443.5L216.0 444.0L216.5 444.5L217.0 445.1L217.5 445.6L218.0 446.0L218.5 446.3L219.0 446.4L219.5 446.3L220.0 446.1L220.5 445.7L221.0 445.3L221.5 444.9L222.0 444.6L222.5 444.4L223.0 444.3L223.5 444.4L224.0 444.6L224.5 445.0L225.0 445.5L225.5 446.0L226.0 446.6L226.5 447.1L227.0 447.4L227.5 447.6L228.0 447.7L228.5 447.6L229.0 447.3L229.5 446.9L230.0 446.5L230.5 446.1L231.0 445.8L231.5 445.6L232.0 445.5L232.5 445.7L233.0 445.9L233.5 446.4L234.0 446.9L234.5 447.4L235.0 448.0L235.5 448.4L236.0 448.8L236.5 449.0L237.0 449.0L237.5 448.9L238.0 448.6L238.5 448.2L239.0 447.8L239.5 447.4L240.0 447.1L240.5 447.0L241.0 447.0L241.5 447.1L242.0 447.5L242.5 447.9L243.0 448.4L243.5 449.0L244.0 449.5L244.5 449.9L245.0 450.2L245.5 450.3L246.0 450.3L246.5 450.1L247.0 449.9L247.5 449.5L248.0 449.2L248.5 448.9L249.0 448.7L249.5 448.6L250.0 448.6L250.5 448.8L251.0 449.1L251.5 449.5L252.0 450.0L252.5 450.5L253.0 450.9L253.5 451.2L254.0 451.4L254.5 451.6L255.0 451.5L255.5 451.4L256.0 451.2L256.5 450.9L257.0 450.6L257.5 450.4L258.0 450.3L258.5 450.2L259.0 450.3L259.5 450.5L260.0 450.8L260.5 451.1L261.0 451.5L261.5 451.9L262.0 452.2L262.5 452.5L263.0 452.6L263.5 452.7L264.0 452.7L264.5 452.6L265.0 452.4L265.5 452.2L266.0 452.0L266.5 451.8L267.0 451.7L267.5 451.7L268.0 451.8L268.5 452.0L269.0 452.2L269.5 452.5L270.0 452.8L270.5 453.1L271.0 453.4L271.5 453.6L272.0 453.7L272.5 453.7L273.0 453.7L273.5 453.6L274.0 453.5L274.5 453.3L275.0 453.2L275.5 453.1L276.0 453.0L276.5 453.1L277.0 453.2L277.5 453.3L278.0 453.5L278.5 453.7L279.0 453.9L279.5 454.2L280.0 454.3L280.5 454.5L281.0 454.5L281.5 454.6L282.0 454.5L282.5 454.5L283.0 454.4L283.5 454.3L284.0 454.3L284.5 454.2L285.0 454.2L285.5 454.2L286.0 454.3L286.5 454.4L287.0 454.6L287.5 454.7L288.0 454.9L288.5 455.0L289.0 455.1L289.5 455.2L290.0 455.2L290.5 455.2L291.0 455.2L291.5 455.2L292.0 455.2L292.5 455.1L293.0 455.1L293.5 455.1L294.0 455.2L294.5 455.2L295.0 455.3L295.5 455.3L296.0 455.4L296.5 455.4L297.0 455.5L297.5 455.6L298.0 455.6L298.5 455.6L299.0 455.6L299.5 455.7L300.0 455.7L300.5 455.7L301.0 455.7L301.5 455.8L302.0 455.8L302.5 455.8L303.0 455.8L303.5 455.9L304.0 455.9L304.5 455.9L305.0 456.0L305.5 456.0L306.0 456.0L306.5 456.0L307.0 456.0L307.5 456.1L308.0 456.1L308.5 456.1L309.0 456.1L309.5 456.2L310.0 456.2L310.5 456.2L311.0 456.2L311.5 456.2L312.0 456.2L312.5 456.3L313.0 456.3L313.5 456.3L314.0 456.3L314.5 456.3L315.0 456.3L315.5 456.4L316.0 456.4L316.5 456.4L317.0 456.4L317.5 456.4L318.0 456.4L318.5 456.4L319.0 456.5L319.5 456.5L320.0 456.5L320.5 456.5L321.0 456.5L321.5 456.5L322.0 456.5" stroke="#2e2e2e" stroke-width="1.0" fill="none" stroke-linejoin="round" stroke-dasharray="3.2 1.3 1 1.3" />
<path d="M34.6 457.1L35.1 457.1L35.6 457.1L36.1 457.1L36.6 457.1L37.1 457.1L37.6 457.1L38.1 457.1L38.6 457.1L39.1 457.1L39.6 457.1L40.1 457.1L40.6 457.1L41.1 457.1L41.6 457.1L42.1 457.1L42.6 457.1L43.1 457.1L43.6 457.1L44.1 457.1L44.6 457.1L45.1 457.1L45.6 457.1L46.1 457.1L46.6 457.1L47.1 457.1L47.6 457.1L48.1 457.1L48.6 457.1L49.1 457.1L49.6 457.1L50.1 457.1L50.6 457.1L51.1 457.1L51.6 457.1L52.1 457.1L52.6 457.1L53.1 457.1L53.6 457.1L54.1 457.1L54.6 457.1L55.1 457.1L55.6 457.1L56.1 457.1L56.6 457.1L57.1 457.1L57.6 457.1L58.1 457.1L58.6 457.1L59.1 457.1L59.6 457.1L60.1 457.1L60.6 457.1L61.1 457.1L61.6 457.1L62.1 457.1L62.6 457.1L63.1 457.1L63.6 457.1L64.1 457.1L64.6 457.1L65.1 457.1L65.6 457.1L66.1 457.1L66.6 457.1L67.1 457.1L67.6 457.1L68.1 457.1L68.6 457.1L69.1 457.1L69.6 457.1L70.1 457.1L70.6 457.1L71.1 457.1L71.6 457.1L72.1 457.1L72.6 457.1L73.1 457.0L73.6 457.0L74.1 457.0L74.6 457.0L75.1 457.0L75.6 457.0L76.1 457.0L76.6 457.0L77.1 457.0L77.6 457.0L78.1 457.0L78.6 457.0L79.1 457.0L79.6 457.0L80.1 457.0L80.6 457.0L81.1 457.0L81.6 457.0L82.1 457.0L82.6 457.0L83.1 457.0L83.6 457.0L84.1 457.0L84.6 457.0L85.1 457.0L85.6 457.0L86.1 456.9L86.6 456.9L87.1 456.8L87.6 456.7L88.1 456.6L88.6 456.5L89.1 456.4L89.6 456.2L90.1 456.1L90.6 455.9L91.1 455.8L91.6 455.6L92.1 455.5L92.6 455.3L93.1 455.2L93.6 455.0L94.1 454.9L94.6 454.7L95.1 454.6L95.6 454.4L96.1 454.3L96.6 454.1L97.1 453.9L97.6 453.7L98.1 453.5L98.6 453.3L99.1 453.0L99.6 452.7L100.1 452.5L100.6 452.1L101.1 451.7L101.6 451.3L102.1 450.8L102.6 450.2L103.1 449.5L103.6 448.7L104.1 447.9L104.6 446.9L105.1 445.6L105.6 443.9L106.1 441.3L106.6 434.4L107.1 425.0L107.6 413.5L108.1 403.4L108.6 396.1L109.1 390.8L109.6 387.2L110.1 384.2L110.6 382.5L111.1 383.0L111.6 386.5L112.1 391.5L112.6 396.0L113.1 400.4L113.6 405.2L114.1 409.6L114.6 412.5L115.1 412.9L115.6 411.9L116.1 409.9L116.6 407.2L117.1 402.8L117.6 393.2L118.1 381.2L118.6 369.9L119.1 358.0L119.6 345.9L120.1 336.4L120.6 329.8L121.1 324.3L121.6 322.0L122.1 324.6L122.6 330.5L123.1 337.4L123.6 347.4L124.1 359.3L124.6 369.3L125.1 375.2L125.6 380.2L126.1 383.4L126.6 383.6L127.1 380.0L127.6 373.8L128.1 366.4L128.6 353.6L129.1 337.2L129.6 322.3L130.1 312.3L130.6 303.2L131.1 297.6L131.6 298.3L132.1 304.9L132.6 314.2L133.1 324.9L133.6 340.1L134.1 355.3L134.6 365.6L135.1 374.1L135.6 380.5L136.1 383.2L136.6 384.0L137.1 384.4L137.6 384.9L138.1 385.8L138.6 387.4L139.1 389.5L139.6 391.9L140.1 394.9L140.6 398.9L141.1 403.5L141.6 408.0L142.1 412.2L142.6 416.5L143.1 420.6L143.6 424.5L144.1 428.3L144.6 431.9L145.1 435.2L145.6 438.2L146.1 441.0L146.6 443.6L147.1 445.9L147.6 447.7L148.1 449.3L148.6 450.7L149.1 451.9L149.6 452.9L150.1 453.6L150.6 454.2L151.1 454.8L151.6 455.2L152.1 455.7L152.6 456.0L153.1 456.3L153.6 456.5L154.1 456.6L154.6 456.7L155.1 456.7L155.6 456.8L156.1 456.8L156.6 456.9L157.1 456.9L157.6 456.9L158.1 457.0L158.6 457.0L159.1 457.0L159.6 457.0L160.1 457.0L160.6 457.0L161.1 457.0L161.6 457.0L162.1 457.0L162.6 457.0L163.1 457.0L163.6 457.0L164.1 457.0L164.6 457.0L165.1 457.0L165.6 457.0L166.1 457.0L166.6 457.0L167.1 457.0L167.6 457.0L168.1 457.0L168.6 457.0L169.1 457.0L169.6 457.0L170.1 457.0L170.6 457.0L171.1 457.0L171.6 457.0L172.1 457.0L172.6 457.0L173.1 457.0L173.6 457.0L174.1 457.0L174.6 457.0L175.1 457.0L175.6 457.0L176.1 457.1L176.6 457.1L177.1 457.1L177.6 457.1L178.1 457.1L178.6 457.1L179.1 457.1L179.6 457.1L180.1 457.1L180.6 457.1L181.1 457.1L181.6 457.1L182.1 457.1L182.6 457.1L183.1 457.1L183.6 457.1L184.1 457.1L184.6 457.1L185.1 457.1L185.6 457.1L186.1 457.1L186.6 457.1L187.1 457.1L187.6 457.1L188.1 457.1L188.6 457.1L189.1 457.1L189.6 457.1L190.1 457.1L190.6 457.1L191.1 457.1L191.6 457.1L192.1 457.1L192.6 457.1L193.1 457.1L193.6 457.1L194.1 457.1L194.6 457.1L195.1 457.1L195.6 457.1L196.1 457.1L196.6 457.1L197.1 457.1L197.6 457.1L198.1 457.1L198.6 457.1L199.1 457.1L199.6 457.1L200.1 457.1L200.6 457.1L201.1 457.1L201.6 457.1L202.1 457.1L202.6 457.1L203.1 457.1L203.6 457.1L204.1 457.1L204.6 457.1L205.1 457.1L205.6 457.1L206.1 457.1L206.6 457.1L207.1 457.1L207.6 457.1L208.1 457.1L208.6 457.1L209.1 457.1L209.6 457.1L210.1 457.1L210.6 457.1L211.1 457.1L211.6 457.1L212.1 457.1L212.6 457.1L213.1 457.1L213.6 457.1L214.1 457.1L214.6 457.1L215.1 457.1L215.6 457.1L216.1 457.1L216.6 457.1L217.1 457.1L217.6 457.1L218.1 457.1L218.6 457.1L219.1 457.1L219.6 457.1L220.1 457.1L220.6 457.1L221.1 457.1L221.6 457.1L222.1 457.1L222.6 457.1L223.1 457.1L223.6 457.1L224.1 457.2L224.6 457.2L225.1 457.2L225.6 457.2L226.1 457.2L226.6 457.2L227.1 457.2L227.6 457.2L228.1 457.2L228.6 457.2L229.1 457.2L229.6 457.2L230.1 457.2L230.6 457.2L231.1 457.2L231.6 457.2L232.1 457.2L232.6 457.2L233.1 457.2L233.6 457.2L234.1 457.2L234.6 457.2L235.1 457.2L235.6 457.2L236.1 457.2L236.6 457.2L237.1 457.2L237.6 457.2L238.1 457.2L238.6 457.2L239.1 457.2L239.6 457.2L240.1 457.2L240.6 457.2L241.1 457.2L241.6 457.2L242.1 457.2L242.6 457.2L243.1 457.2L243.6 457.2L244.1 457.2L244.6 457.2L245.1 457.2L245.6 457.2L246.1 457.2L246.6 457.2L247.1 457.2L247.6 457.2L248.1 457.2L248.6 457.2L249.1 457.2L249.6 457.2L250.1 457.2L250.6 457.2L251.1 457.2L251.6 457.2L252.1 457.2L252.6 457.2L253.1 457.2L253.6 457.2L254.1 457.2L254.6 457.2L255.1 457.2L255.6 457.2L256.1 457.2L256.6 457.2L257.1 457.2L257.6 457.2L258.1 457.2L258.6 457.2L259.1 457.2L259.6 457.2L260.1 457.2L260.6 457.2L261.1 457.2L261.6 457.2L262.1 457.2L262.6 457.2L263.1 457.2L263.6 457.2L264.1 457.2L264.6 457.2L265.1 457.2L265.6 457.2L266.1 457.2L266.6 457.2L267.1 457.2L267.6 457.2L268.1 457.2L268.6 457.2L269.1 457.2L269.6 457.2L270.1 457.2L270.6 457.2L271.1 457.2L271.6 457.2L272.1 457.2L272.6 457.2L273.1 457.2L273.6 457.2L274.1 457.2L274.6 457.2L275.1 457.2L275.6 457.2L276.1 457.2L276.6 457.2L277.1 457.2L277.6 457.2L278.1 457.2L278.6 457.2L279.1 457.2L279.6 457.2L280.1 457.2L280.6 457.2L281.1 457.2L281.6 457.2L282.1 457.2L282.6 457.2L283.1 457.2L283.6 457.2L284.1 457.2L284.6 457.2L285.1 457.2L285.6 457.2L286.1 457.2L286.6 457.2L287.1 457.2L287.6 457.2L288.1 457.2L288.6 457.2L289.1 457.2L289.6 457.2L290.1 457.2L290.6 457.2L291.1 457.2L291.6 457.2L292.1 457.2L292.6 457.2L293.1 457.2L293.6 457.2L294.1 457.2L294.6 457.2L295.1 457.2L295.6 457.2L296.1 457.2L296.6 457.2L297.1 457.2L297.6 457.2L298.1 457.2L298.6 457.2L299.1 457.2L299.6 457.2L300.1 457.2L300.6 457.2L301.1 457.2L301.6 457.2L302.1 457.2L302.6 457.2L303.1 457.2L303.6 457.2L304.1 457.2L304.6 457.2L305.1 457.2L305.6 457.2L306.1 457.2L306.6 457.2L307.1 457.2L307.6 457.2L308.1 457.2L308.6 457.2L309.1 457.2L309.6 457.2L310.1 457.2L310.6 457.2L311.1 457.2L311.6 457.2L312.1 457.2L312.6 457.2L313.1 457.2L313.6 457.2L314.1 457.2L314.6 457.2L315.1 457.2L315.6 457.2L316.1 457.2L316.6 457.2L317.1 457.2L317.6 457.2L318.1 457.2L318.6 457.2L319.1 457.2L319.6 457.2L320.1 457.2L320.6 457.2L321.1 457.2L321.6 457.2" stroke="#0a0a0a" stroke-width="1.1" fill="none" stroke-linejoin="round" stroke-dasharray="4.4 2" />
<path d="M157.1 449.3L157.3 447.4L157.6 445.2L157.8 442.9L158.1 440.4L158.3 437.9L158.6 435.5L158.8 433.0L159.1 430.6L159.3 428.4L159.6 426.5L159.8 424.9L160.1 423.5L160.3 422.2L160.6 421.0L160.8 420.0L161.1 419.2L161.3 418.6L161.6 418.3L161.8 418.9L162.1 420.2L162.3 421.6L162.6 423.3L162.8 424.9L163.1 426.1L163.3 427.3L163.6 428.2L163.8 428.7L164.1 429.1L164.3 429.4L164.6 429.7L164.8 429.9L165.1 430.0L165.3 430.1L165.6 430.0L165.8 429.9L166.1 429.7L166.3 429.4L166.6 429.1L166.8 428.7L167.1 428.2L167.3 427.7L167.6 427.1L167.8 426.4L168.1 425.8L168.3 425.0L168.6 423.8L168.8 422.2L169.1 420.3L169.3 418.1L169.6 415.9L169.8 413.6L170.1 410.9L170.3 407.7L170.6 404.4L170.8 401.6L171.1 399.0L171.3 396.3L171.6 393.9L171.8 392.1L172.1 391.5L172.3 392.1L172.6 393.8L172.8 395.9L173.1 397.9L173.3 400.3L173.6 402.9L173.8 405.2L174.1 407.0L174.3 408.8L174.6 410.4L174.8 411.7L175.1 412.7L175.3 413.2L175.6 413.8L175.8 414.2L176.1 414.7L176.3 415.0L176.6 415.3L176.8 415.5L177.1 415.7L177.3 415.7L177.6 415.7L177.8 415.4L178.1 414.9L178.3 414.2L178.6 413.4L178.8 412.4L179.1 411.3L179.3 410.0L179.6 407.8L179.8 404.6L180.1 401.0L180.3 397.1L180.6 392.2L180.8 386.8L181.1 382.3L181.3 377.9L181.6 374.4L181.8 373.4L182.1 375.3L182.3 378.8L182.6 382.5L182.8 386.9L183.1 391.4L183.3 394.9L183.6 398.0L183.8 400.8L184.1 402.9L184.3 404.1L184.6 405.0L184.8 405.8L185.1 406.5L185.3 407.0L185.6 407.4L185.8 407.6L186.1 407.6L186.3 407.4L186.6 407.0L186.8 406.4L187.1 405.7L187.3 404.8L187.6 403.7L187.8 402.6L188.1 401.4L188.3 399.7L188.6 396.9L188.8 393.5L189.1 389.6L189.3 385.4L189.6 380.5L189.8 374.7L190.1 369.1L190.3 364.5L190.6 359.7L190.8 355.9L191.1 354.3L191.3 356.2L191.6 360.6L191.8 365.6L192.1 371.1L192.3 377.2L192.6 382.1L192.8 386.3L193.1 390.2L193.3 393.1L193.6 394.9L193.8 396.1L194.1 397.2L194.3 398.1L194.6 398.9L194.8 399.4L195.1 399.7L195.3 399.8L195.6 399.6L195.8 399.2L196.1 398.5L196.3 397.7L196.6 396.7L196.8 395.6L197.1 394.4L197.3 392.9L197.6 390.3L197.8 386.9L198.1 382.9L198.3 378.6L198.6 373.3L198.8 367.3L199.1 362.1L199.3 357.2L199.6 352.8L199.8 350.4L200.1 351.4L200.3 354.9L200.6 359.4L200.8 363.9L201.1 369.4L201.3 374.6L201.6 378.6L201.8 382.4L202.1 385.7L202.3 388.2L202.6 389.6L202.8 390.7L203.1 391.7L203.3 392.6L203.6 393.3L203.8 393.8L204.1 394.2L204.3 394.3L204.6 394.2L204.8 393.8L205.1 393.3L205.3 392.5L205.6 391.6L205.8 390.5L206.1 389.3L206.3 387.9L206.6 385.4L206.8 382.0L207.1 378.0L207.3 373.7L207.6 368.3L207.8 362.4L208.1 357.5L208.3 352.7L208.6 348.8L208.8 347.7L209.1 350.1L209.3 354.5L209.6 359.1L209.8 364.5L210.1 370.2L210.3 374.8L210.6 378.8L210.8 382.4L211.1 385.2L211.3 386.9L211.6 388.1L211.8 389.1L212.1 390.0L212.3 390.8L212.6 391.3L212.8 391.7L213.1 391.8L213.3 391.6L213.6 391.2L213.8 390.6L214.1 389.8L214.3 388.9L214.6 387.8L214.8 386.6L215.1 384.7L215.3 381.8L215.6 378.2L215.8 374.2L216.1 369.4L216.3 363.8L216.6 359.0L216.8 354.4L217.1 350.7L217.3 349.5L217.6 352.0L217.8 356.5L218.1 361.1L218.3 366.6L218.6 372.3L218.8 376.7L219.1 380.7L219.3 384.2L219.6 386.8L219.8 388.3L220.1 389.4L220.3 390.5L220.6 391.3L220.8 392.0L221.1 392.5L221.3 392.7L221.6 392.7L221.8 392.5L222.1 392.0L222.3 391.4L222.6 390.7L222.8 389.8L223.1 388.8L223.3 387.7L223.6 386.0L223.8 383.3L224.1 380.0L224.3 376.5L224.6 372.3L224.8 367.3L225.1 362.7L225.3 358.6L225.6 354.7L225.8 352.6L226.1 353.7L226.3 357.5L226.6 362.2L226.8 366.9L227.1 372.6L227.3 377.7L227.6 381.7L227.8 385.5L228.1 388.6L228.3 390.7L228.6 391.9L228.8 393.0L229.1 393.9L229.3 394.7L229.6 395.3L229.8 395.7L230.1 395.9L230.3 395.8L230.6 395.5L230.8 395.0L231.1 394.3L231.3 393.4L231.6 392.4L231.8 391.3L232.1 389.8L232.3 387.4L232.6 384.2L232.8 380.7L233.1 376.8L233.3 371.9L233.6 367.3L233.8 363.3L234.1 359.6L234.3 357.5L234.6 358.6L234.8 362.5L235.1 367.5L235.3 372.5L235.6 378.6L235.8 384.2L236.1 388.6L236.3 392.7L236.6 396.3L236.8 398.8L237.1 400.2L237.3 401.4L237.6 402.5L237.8 403.4L238.1 404.1L238.3 404.6L238.6 404.8L238.8 404.7L239.1 404.4L239.3 403.8L239.6 402.9L239.8 401.9L240.1 400.8L240.3 399.5L240.6 398.0L240.8 395.7L241.1 392.8L241.3 389.4L241.6 385.9L241.8 381.9L242.1 377.3L242.3 373.0L242.6 369.6L242.8 366.2L243.1 363.7L243.3 362.9L243.6 365.1L243.8 369.1L244.1 373.6L244.3 378.7L244.6 384.8L244.8 390.4L245.1 395.0L245.3 399.4L245.6 403.3L245.8 406.2L246.1 407.9L246.3 409.5L246.6 410.8L246.8 412.0L247.1 412.9L247.3 413.4L247.6 413.5L247.8 413.3L248.1 412.7L248.3 411.9L248.6 410.8L248.8 409.6L249.1 408.2L249.3 406.7L249.6 404.6L249.8 401.9L250.1 398.7L250.3 395.4L250.6 392.0L250.8 388.0L251.1 383.8L251.3 380.3L251.6 377.5L251.8 374.8L252.1 372.9L252.3 372.3L252.6 373.7L252.8 376.5L253.1 379.8L253.3 383.4L253.6 388.1L253.8 393.1L254.1 397.5L254.3 401.5L254.6 405.3L254.8 408.8L255.1 411.6L255.3 413.4L255.6 415.0L255.8 416.5L256.1 417.8L256.4 418.7L256.6 419.4L256.9 419.7L257.1 419.5L257.4 418.9L257.6 417.9L257.9 416.8L258.1 415.4L258.4 414.0L258.6 412.3L258.9 410.1L259.1 407.4L259.4 404.5L259.6 401.6L259.9 398.4L260.1 394.8L260.4 391.4L260.6 388.8L260.9 386.8L261.1 384.9L261.4 383.7L261.6 383.5L261.9 384.6L262.1 386.5L262.4 388.8L262.6 391.5L262.9 395.1L263.1 399.3L263.4 403.2L263.6 406.5L263.9 409.8L264.1 413.0L264.4 415.7L264.6 417.9L264.9 419.5L265.1 421.0L265.4 422.4L265.6 423.6L265.9 424.4L266.1 424.8L266.4 424.7L266.6 424.1L266.9 423.1L267.1 421.8L267.4 420.4L267.6 419.0L267.9 417.3L268.1 415.1L268.4 412.7L268.6 410.2L268.9 407.7L269.1 404.8L269.4 401.7L269.6 398.9L269.9 396.8L270.1 395.4L270.4 394.1L270.6 393.2L270.9 392.9L271.1 393.4L271.4 394.4L271.6 395.8L271.9 397.3L272.1 399.5L272.4 402.5L272.6 405.7L272.9 408.9L273.1 411.6L273.4 414.3L273.6 416.9L273.9 419.4L274.1 421.5L274.4 423.1L274.6 424.6L274.9 426.0L275.1 427.3L275.4 428.3L275.6 428.9L275.9 429.0L276.1 428.7L276.4 427.9L276.6 426.9L276.9 425.7L277.1 424.5L277.4 423.2L277.6 421.4L277.9 419.4L278.1 417.3L278.4 415.2L278.6 412.9L278.9 410.3L279.1 407.9L279.4 405.8L279.6 404.5L279.9 403.4L280.1 402.5L280.4 402.1L280.6 402.3L280.9 403.0L281.1 404.2L281.4 405.5L281.6 407.5L281.9 410.2L282.1 413.2L282.4 416.0L282.6 418.4L282.9 420.8L283.1 423.2L283.4 425.3L283.6 427.0L283.9 428.3L284.1 429.7L284.4 430.9L284.6 431.9L284.9 432.4L285.1 432.4L285.4 432.1L285.6 431.5L285.9 430.7L286.1 429.7L286.4 428.8L286.6 427.7L286.9 426.3L287.1 424.8L287.4 423.1L287.6 421.5L287.9 419.7L288.1 417.7L288.4 415.7L288.6 414.1L288.9 413.0L289.1 412.1L289.4 411.4L289.6 411.0L289.9 411.0L290.1 411.4L290.4 412.2L290.6 413.1L290.9 414.0L291.1 415.5L291.4 417.5L291.6 419.6L291.9 421.7L292.1 423.5L292.4 425.2L292.6 427.0L292.9 428.6L293.1 430.1L293.4 431.3L293.6 432.3L293.9 433.3L294.1 434.2L294.4 435.0L294.6 435.6L294.9 436.0L295.1 436.0L295.4 435.7L295.6 435.2L295.9 434.6L296.1 433.8L296.4 433.1L296.6 432.2L296.9 431.1L297.1 429.8L297.4 428.5L297.6 427.2L297.9 425.7L298.1 424.1L298.4 422.6L298.6 421.4L298.9 420.7L299.1 420.0L299.4 419.5L299.6 419.3L299.9 419.4L300.1 419.9L300.4 420.5L300.6 421.3L300.9 422.2L301.1 423.6L301.4 425.2L301.6 426.9L301.9 428.5L302.1 429.8L302.4 431.3L302.6 432.6L302.9 433.9L303.1 435.0L303.4 435.9L303.6 436.7L303.9 437.5L304.1 438.2L304.4 438.8L304.6 439.2L304.9 439.3L305.1 439.3L305.4 439.0L305.6 438.6L305.9 438.0L306.1 437.5L306.4 436.9L306.6 436.2L306.9 435.3L307.1 434.3L307.4 433.3L307.6 432.3L307.9 431.1L308.1 429.9L308.4 428.9L308.6 428.1L308.9 427.6L309.1 427.1L309.4 426.9L309.6 426.8L309.9 427.1L310.1 427.5L310.4 428.1L310.6 428.8L310.9 429.8L311.1 431.1L311.4 432.5L311.6 433.8L311.9 434.9L312.1 436.1L312.4 437.2L312.6 438.2L312.9 439.0L313.1 439.7L313.4 440.3L313.6 440.9L313.9 441.4L314.1 441.8L314.4 442.0L314.6 441.9L314.9 441.7L315.1 441.4L315.4 441.0L315.6 440.6L315.9 440.2L316.1 439.6L316.4 438.9L316.6 438.2L316.9 437.5L317.1 436.8L317.4 435.9L317.6 435.1L317.9 434.5L318.1 434.1L318.4 433.7L318.6 433.5L318.9 433.4L319.1 433.5L319.4 433.8L319.6 434.2L319.9 434.7L320.1 435.2L320.4 435.7L320.6 436.3L320.9 436.9L321.1 437.6L321.4 438.3L321.6 439.2L321.9 440.1" stroke="#0a0a0a" stroke-width="1.1" fill="none" stroke-linejoin="round" stroke-dasharray="3.2 1.3 1 1.3" />
<path d="M34.6 450.6L35.4 450.4L36.1 450.2L36.9 449.9L37.6 449.7L38.4 449.4L39.1 449.2L39.9 448.9L40.6 448.7L41.4 448.4L42.1 448.1L42.9 447.8L43.6 447.5L44.4 447.2L45.1 446.9L45.9 446.5L46.6 446.2L47.1 445.9L47.6 445.7L48.1 445.5L48.6 445.2L49.1 445.0L49.6 444.7L50.1 444.4L50.6 444.2L51.1 443.9L51.6 443.6L52.1 443.3L52.6 443.0L53.1 442.8L53.6 442.5L54.1 442.2L54.6 441.9L55.1 441.6L55.6 441.3L56.1 441.0L56.6 440.7L57.1 440.4L57.6 440.1L58.1 439.8L58.6 439.5L59.1 439.2L59.6 438.9L60.1 438.6L60.6 438.3L61.1 438.1L61.6 437.8L62.1 437.5L62.6 437.2L63.1 436.9L63.6 436.6L64.1 436.3L64.6 436.0L65.1 435.7L65.6 435.4L66.1 435.1L66.6 434.8L67.1 434.4L67.6 434.1L68.1 433.8L68.6 433.5L69.1 433.2L69.6 432.9L70.1 432.6L70.6 432.2L71.1 431.9L71.6 431.6L72.1 431.3L72.6 430.9L73.1 430.6L73.6 430.3L74.1 429.9L74.6 429.6L75.1 429.2L75.6 428.9L76.1 428.5L76.6 428.2L77.1 427.8L77.6 427.4L78.1 427.0L78.6 426.7L79.1 426.3L79.6 425.9L80.1 425.5L80.6 425.2L81.1 424.8L81.6 424.4L82.1 424.1L82.6 423.7L83.1 423.3L83.6 423.0L84.1 422.6L84.6 422.3L85.1 421.9L85.6 421.5L86.1 421.1L86.6 420.7L87.1 420.4L87.6 420.0L88.1 419.6L88.6 419.2L89.1 418.8L89.6 418.4L90.1 417.9L90.6 417.5L91.1 417.1L91.6 416.7L92.1 416.3L92.6 415.9L93.1 415.4L93.6 415.0L94.1 414.6L94.6 414.1L95.1 413.7L95.6 413.3L96.1 412.8L96.6 412.4L97.1 411.9L97.6 411.4L98.1 411.0L98.6 410.5L99.1 410.0L99.6 409.5L100.1 409.0L100.6 408.5L101.1 408.0L101.6 407.5L102.1 407.0L102.6 406.3L103.1 405.7L103.6 404.9L104.1 404.1L104.6 403.1L104.8 402.4L105.1 401.7L105.3 400.7L105.6 399.4L105.8 397.9L106.1 396.3L106.3 394.4L106.6 392.2L106.8 389.4L107.1 386.2L107.3 382.7L107.6 378.8L107.8 374.0L108.1 368.8L108.3 363.8L108.6 359.4L108.8 355.9L109.1 352.4L109.3 349.0L109.6 345.8L109.8 343.2L110.1 341.4L110.3 340.5L110.8 341.7L111.1 343.2L111.3 345.0L111.6 347.1L111.8 349.2L112.1 351.3L112.3 353.1L112.6 355.3L112.8 357.6L113.1 360.0L113.3 362.3L113.6 364.5L113.8 366.5L114.1 368.1L114.3 369.2L114.6 370.1L114.8 371.0L115.1 371.7L115.3 372.3L115.8 372.8L116.3 371.4L116.6 370.0L116.8 368.3L117.1 366.4L117.3 364.2L117.6 362.0L117.8 359.2L118.1 355.5L118.3 351.0L118.6 346.0L118.8 340.7L119.1 335.4L119.3 330.2L119.6 325.4L119.8 321.2L120.1 316.7L120.3 312.0L120.6 307.5L120.8 303.8L121.1 301.4L121.3 300.7L121.6 301.9L121.8 304.3L122.1 307.6L122.3 311.4L122.6 315.2L122.8 318.7L123.1 322.4L123.3 326.7L123.6 331.2L123.8 335.7L124.1 339.9L124.3 343.6L124.6 346.4L124.8 348.3L125.1 349.7L125.3 351.0L125.6 352.2L125.8 353.1L126.1 353.7L126.8 352.0L127.1 349.5L127.3 346.3L127.6 342.8L127.8 339.3L128.1 334.5L128.3 328.2L128.6 321.1L128.8 313.7L129.1 306.5L129.3 300.1L129.6 295.0L129.8 290.6L130.1 286.1L130.3 281.9L130.6 278.2L130.8 275.6L131.1 274.1L131.6 276.1L131.8 279.2L132.1 283.1L132.3 287.6L132.6 292.3L132.8 296.9L133.1 302.3L133.3 308.8L133.6 315.7L133.8 322.7L134.1 329.3L134.3 335.0L134.6 339.9L134.8 344.8L135.1 349.0L135.3 351.7L135.6 353.0L135.8 354.0L136.1 354.8L136.3 355.3L136.8 355.8L137.3 356.0L138.1 356.4L138.6 357.0L139.1 358.0L139.3 358.8L139.6 361.0L139.8 365.8L140.1 371.1L140.3 375.7L140.6 380.2L140.8 384.5L141.1 388.0L141.3 390.7L141.6 393.1L141.8 395.2L142.1 397.0L142.3 398.7L142.6 400.2L142.8 401.7L143.1 403.0L143.3 404.3L143.6 405.5L143.8 406.5L144.1 407.5L144.3 408.3L144.6 409.1L144.8 409.8L145.1 410.6L145.3 411.3L145.6 411.9L145.8 412.5L146.1 413.1L146.3 413.6L146.8 414.3L147.3 414.8L147.8 415.1L148.6 415.4L149.3 415.6L150.1 415.9L150.6 416.4L151.1 417.0L151.6 417.7L152.1 418.5L152.6 419.2L153.1 420.1L153.6 420.9L154.1 421.5L154.6 421.8L155.1 421.5L155.6 420.7L155.8 420.2L156.1 419.5L156.3 418.9L156.6 418.2L156.8 417.4L157.1 416.7L157.3 415.7L157.6 414.5L157.8 413.1L158.1 411.6L158.3 410.0L158.6 408.4L158.8 406.8L159.1 405.4L159.3 404.1L159.6 403.0L159.8 402.0L160.1 401.0L160.3 400.0L160.6 399.0L160.8 398.2L161.1 397.6L161.6 397.0L161.8 397.6L162.1 398.9L162.3 400.3L162.6 402.0L162.8 403.6L163.1 404.9L163.3 406.0L163.6 406.9L163.8 407.5L164.3 408.1L164.8 408.6L165.6 408.8L166.1 408.5L166.6 407.8L167.1 406.9L167.3 406.4L167.6 405.8L167.8 405.2L168.1 404.5L168.3 403.7L168.6 402.5L168.8 400.9L169.1 399.0L169.3 396.9L169.6 394.6L169.8 392.3L170.1 389.6L170.3 386.4L170.6 383.2L170.8 380.3L171.1 377.7L171.3 375.1L171.6 372.6L171.8 370.9L172.1 370.2L172.3 370.9L172.6 372.5L172.8 374.6L173.1 376.6L173.3 379.0L173.6 381.6L173.8 383.9L174.1 385.7L174.3 387.5L174.6 389.1L174.8 390.4L175.1 391.4L175.3 392.0L175.6 392.5L176.1 393.4L176.6 394.1L177.1 394.4L177.8 394.1L178.3 393.0L178.6 392.2L178.8 391.2L179.1 390.1L179.3 388.8L179.6 386.6L179.8 383.5L180.1 379.8L180.3 376.0L180.6 371.0L180.8 365.7L181.1 361.2L181.3 356.8L181.6 353.3L181.8 352.3L182.1 354.2L182.3 357.8L182.6 361.5L182.8 365.8L183.1 370.4L183.3 373.9L183.6 377.0L183.8 379.8L184.1 381.9L184.3 383.1L184.6 384.0L184.8 384.9L185.1 385.6L185.3 386.1L185.8 386.8L186.6 386.2L186.8 385.6L187.1 384.9L187.3 384.0L187.6 383.0L187.8 381.9L188.1 380.7L188.3 379.0L188.6 376.3L188.8 372.8L189.1 368.9L189.3 364.8L189.6 359.9L189.8 354.1L190.1 348.6L190.3 343.9L190.6 339.2L190.8 335.4L191.1 333.8L191.3 335.7L191.6 340.2L191.8 345.2L192.1 350.7L192.3 356.8L192.6 361.7L192.8 366.0L193.1 369.9L193.3 372.9L193.6 374.6L193.8 375.9L194.1 377.0L194.3 378.0L194.6 378.8L194.8 379.4L195.3 379.8L195.8 379.2L196.1 378.6L196.3 377.9L196.6 376.9L196.8 375.8L197.1 374.6L197.3 373.2L197.6 370.7L197.8 367.2L198.1 363.3L198.3 359.1L198.6 353.8L198.8 347.8L199.1 342.7L199.3 337.8L199.6 333.4L199.8 331.1L200.1 332.1L200.3 335.7L200.6 340.3L200.8 344.8L201.1 350.3L201.3 355.6L201.6 359.6L201.8 363.4L202.1 366.8L202.3 369.3L202.6 370.8L202.8 371.9L203.1 372.9L203.3 373.8L203.6 374.6L203.8 375.2L204.3 375.7L204.8 375.3L205.1 374.8L205.3 374.0L205.6 373.1L205.8 372.1L206.1 370.9L206.3 369.5L206.6 367.1L206.8 363.7L207.1 359.7L207.3 355.5L207.6 350.1L207.8 344.3L208.1 339.4L208.3 334.6L208.6 330.8L208.8 329.7L209.1 332.1L209.3 336.5L209.6 341.2L209.8 346.6L210.1 352.4L210.3 357.0L210.6 361.0L210.8 364.7L211.1 367.5L211.3 369.2L211.6 370.4L211.8 371.5L212.1 372.5L212.3 373.2L212.6 373.8L213.1 374.3L213.6 373.8L213.8 373.3L214.1 372.5L214.3 371.6L214.6 370.5L214.8 369.4L215.1 367.5L215.3 364.6L215.6 361.0L215.8 357.1L216.1 352.4L216.3 346.8L216.6 342.1L216.8 337.5L217.1 333.8L217.3 332.7L217.6 335.2L217.8 339.7L218.1 344.4L218.3 349.9L218.6 355.6L218.8 360.1L219.1 364.1L219.3 367.7L219.6 370.3L219.8 371.8L220.1 373.0L220.3 374.0L220.6 374.9L220.8 375.7L221.1 376.2L221.6 376.5L222.1 375.9L222.3 375.4L222.6 374.6L222.8 373.8L223.1 372.8L223.3 371.8L223.6 370.1L223.8 367.5L224.1 364.2L224.3 360.7L224.6 356.6L224.8 351.6L225.1 347.1L225.3 343.0L225.6 339.2L225.8 337.2L226.1 338.3L226.3 342.1L226.6 346.8L226.8 351.6L227.1 357.4L227.3 362.5L227.6 366.5L227.8 370.3L228.1 373.5L228.3 375.7L228.6 376.9L228.8 378.0L229.1 379.0L229.3 379.9L229.6 380.5L230.1 381.2L230.6 380.9L231.1 379.8L231.3 379.0L231.6 378.0L231.8 376.9L232.1 375.5L232.3 373.1L232.6 370.0L232.8 366.5L233.1 362.7L233.3 357.8L233.6 353.3L233.8 349.4L234.1 345.7L234.3 343.7L234.6 344.8L234.8 348.8L235.1 353.8L235.3 358.8L235.6 365.0L235.8 370.6L236.1 375.1L236.3 379.3L236.6 382.9L236.8 385.4L237.1 386.9L237.3 388.2L237.6 389.4L237.8 390.3L238.1 391.1L238.3 391.6L238.8 391.8L239.3 391.0L239.6 390.2L239.8 389.2L240.1 388.1L240.3 386.9L240.6 385.5L240.8 383.3L241.1 380.4L241.3 377.1L241.6 373.6L241.8 369.7L242.1 365.1L242.3 360.9L242.6 357.6L242.8 354.2L243.1 351.7L243.3 351.1L243.6 353.3L243.8 357.4L244.1 361.9L244.3 367.1L244.6 373.3L244.8 378.9L245.1 383.5L245.3 388.0L245.6 392.0L245.8 394.9L246.1 396.7L246.3 398.3L246.6 399.8L246.8 401.0L247.1 401.9L247.3 402.5L248.1 402.0L248.3 401.2L248.6 400.2L248.8 399.0L249.1 397.7L249.3 396.3L249.6 394.2L249.8 391.6L250.1 388.5L250.3 385.2L250.6 381.9L250.8 377.9L251.1 373.8L251.3 370.3L251.6 367.6L251.8 365.0L252.1 363.1L252.3 362.5L252.6 364.0L252.8 366.8L253.1 370.2L253.3 373.8L253.6 378.6L253.8 383.7L254.1 388.2L254.3 392.2L254.6 396.1L254.8 399.7L255.1 402.5L255.3 404.4L255.6 406.1L255.8 407.6L256.1 408.9L256.4 410.0L256.6 410.7L257.4 410.3L257.6 409.4L257.9 408.3L258.1 407.0L258.4 405.6L258.6 404.1L258.9 401.9L259.1 399.3L259.4 396.4L259.6 393.6L259.9 390.4L260.1 386.9L260.4 383.6L260.6 381.0L260.9 379.0L261.1 377.2L261.4 376.0L261.9 377.1L262.1 379.1L262.4 381.4L262.6 384.1L262.9 387.8L263.1 392.0L263.4 396.0L263.6 399.3L263.9 402.7L264.1 405.9L264.4 408.8L264.6 410.9L264.9 412.6L265.1 414.2L265.4 415.6L265.6 416.8L265.9 417.7L266.4 418.1L266.6 417.6L266.9 416.6L267.1 415.4L267.4 414.1L267.6 412.7L267.9 411.0L268.1 408.9L268.4 406.5L268.6 404.0L268.9 401.6L269.1 398.8L269.4 395.7L269.6 393.0L269.9 390.9L270.1 389.5L270.4 388.3L270.6 387.4L271.1 387.7L271.4 388.8L271.6 390.2L271.9 391.8L272.1 394.1L272.4 397.1L272.6 400.4L272.9 403.6L273.1 406.3L273.4 409.1L273.6 411.8L273.9 414.3L274.1 416.4L274.4 418.1L274.6 419.6L274.9 421.1L275.1 422.4L275.4 423.5L275.6 424.1L276.4 423.3L276.6 422.3L276.9 421.2L277.1 419.9L277.4 418.6L277.6 417.0L277.9 415.0L278.1 412.9L278.4 410.8L278.6 408.6L278.9 406.1L279.1 403.6L279.4 401.6L279.6 400.3L279.9 399.3L280.1 398.4L280.9 399.0L281.1 400.2L281.4 401.6L281.6 403.6L281.9 406.3L282.1 409.3L282.4 412.1L282.6 414.6L282.9 417.1L283.1 419.5L283.4 421.6L283.6 423.3L283.9 424.7L284.1 426.1L284.4 427.4L284.6 428.3L284.9 428.9L285.4 428.7L285.6 428.1L285.9 427.3L286.1 426.4L286.4 425.4L286.6 424.4L286.9 423.1L287.1 421.6L287.4 419.9L287.6 418.3L287.9 416.5L288.1 414.6L288.4 412.6L288.6 411.0L288.9 410.0L289.1 409.1L289.4 408.4L289.9 408.1L290.4 409.3L290.6 410.2L290.9 411.2L291.1 412.7L291.4 414.7L291.6 416.8L291.9 418.9L292.1 420.8L292.4 422.5L292.6 424.3L292.9 426.0L293.1 427.5L293.4 428.7L293.6 429.8L293.9 430.8L294.1 431.7L294.4 432.5L294.6 433.2L295.1 433.6L295.6 432.8L295.9 432.2L296.1 431.5L296.4 430.7L296.6 429.9L296.9 428.8L297.1 427.6L297.4 426.2L297.6 424.9L297.9 423.5L298.1 421.9L298.4 420.4L298.6 419.3L298.9 418.5L299.1 417.9L299.6 417.2L300.1 417.8L300.4 418.5L300.6 419.3L300.9 420.2L301.1 421.6L301.4 423.2L301.6 424.9L301.9 426.5L302.1 427.9L302.4 429.3L302.6 430.7L302.9 432.0L303.1 433.2L303.4 434.1L303.6 434.9L303.9 435.7L304.1 436.4L304.4 437.0L304.9 437.6L305.4 437.3L305.9 436.3L306.1 435.8L306.4 435.2L306.6 434.5L306.9 433.6L307.1 432.7L307.4 431.7L307.6 430.7L307.9 429.6L308.1 428.4L308.4 427.3L308.6 426.6L308.9 426.1L309.4 425.4L309.9 425.6L310.4 426.7L310.6 427.4L310.9 428.4L311.1 429.7L311.4 431.1L311.6 432.4L311.9 433.6L312.1 434.7L312.4 435.9L312.6 436.9L312.9 437.7L313.1 438.4L313.4 439.0L313.6 439.6L313.9 440.2L314.4 440.7L314.9 440.5L315.4 439.8L315.9 439.0L316.1 438.4L316.4 437.8L316.6 437.1L316.9 436.4L317.1 435.6L317.4 434.8L317.6 434.0L317.9 433.3L318.4 432.6L318.9 432.3L319.4 432.7L319.9 433.6L320.1 434.1L320.4 434.7L320.6 435.2L320.9 435.8L321.1 436.5L321.4 437.3L321.6 438.1L321.9 439.0" stroke="#5a5a5a" stroke-width="0.6" fill="none" stroke-linejoin="round" />
<path d="M34.6 450.6L35.1 450.5L35.6 450.3L36.1 450.2L36.6 450.0L37.1 449.9L37.6 449.7L38.1 449.5L38.6 449.4L39.1 449.2L39.6 449.0L40.1 448.8L40.6 448.7L41.1 448.5L41.6 448.3L42.1 448.1L42.6 447.9L43.1 447.7L43.6 447.5L44.1 447.3L44.6 447.1L45.1 446.9L45.6 446.6L46.1 446.4L46.6 446.2L47.1 445.9L47.6 445.7L48.1 445.5L48.6 445.2L49.1 445.0L49.6 444.7L50.1 444.4L50.6 444.2L51.1 443.9L51.6 443.6L52.1 443.3L52.6 443.0L53.1 442.8L53.6 442.5L54.1 442.2L54.6 441.9L55.1 441.6L55.6 441.3L56.1 441.0L56.6 440.7L57.1 440.4L57.6 440.1L58.1 439.8L58.6 439.5L59.1 439.2L59.6 438.9L60.1 438.6L60.6 438.3L61.1 438.1L61.6 437.8L62.1 437.5L62.6 437.2L63.1 436.9L63.6 436.6L64.1 436.3L64.6 436.0L65.1 435.7L65.6 435.4L66.1 435.1L66.6 434.8L67.1 434.4L67.6 434.1L68.1 433.8L68.6 433.5L69.1 433.2L69.6 432.9L70.1 432.6L70.6 432.2L71.1 431.9L71.6 431.6L72.1 431.3L72.6 430.9L73.1 430.6L73.6 430.3L74.1 429.9L74.6 429.6L75.1 429.2L75.6 428.9L76.1 428.5L76.6 428.2L77.1 427.8L77.6 427.4L78.1 427.0L78.6 426.7L79.1 426.3L79.6 425.9L80.1 425.5L80.6 425.2L81.1 424.8L81.6 424.4L82.1 424.1L82.6 423.7L83.1 423.3L83.6 423.0L84.1 422.6L84.6 422.3L85.1 421.9L85.6 421.5L86.1 421.1L86.6 420.7L87.1 420.4L87.6 420.0L88.1 419.6L88.6 419.2L89.1 418.8L89.6 418.4L90.1 417.9L90.6 417.5L91.1 417.1L91.6 416.7L92.1 416.3L92.6 415.9L93.1 415.4L93.6 415.0L94.1 414.6L94.6 414.1L95.1 413.7L95.6 413.3L96.1 412.8L96.6 412.4L97.1 411.9L97.6 411.4L98.1 411.0L98.6 410.5L99.1 410.0L99.6 409.5L100.1 409.0L100.6 408.5L101.1 408.0L101.6 407.5L102.1 407.0L102.6 406.3L103.1 405.7L103.6 404.9L104.1 404.1L104.6 403.1L105.1 401.7M110.1 341.4L110.6 340.8M114.8 371.0L115.3 372.3L115.8 372.8L116.3 371.4M121.1 301.4L121.6 301.9M125.8 353.1L126.3 354.0M130.8 275.6L131.3 274.3M135.8 354.0L136.3 355.3L136.8 355.8L137.3 356.0L137.8 356.2L138.3 356.7L138.8 357.4L139.3 358.8M144.6 409.1L145.1 410.6L145.6 411.9L146.1 413.1L146.6 414.0L147.1 414.6L147.6 415.0L148.1 415.2L148.6 415.4L149.1 415.5L149.6 415.7L150.1 415.9L150.6 416.4L151.1 417.0L151.6 417.7L152.1 418.5L152.6 419.2L153.1 420.1L153.6 420.9L154.1 421.5L154.6 421.8L155.1 421.5L155.6 420.7L156.1 419.5L156.6 418.2L157.1 416.7M160.6 399.0L161.1 397.6L161.6 397.0M163.3 406.0L163.8 407.5L164.3 408.1L164.8 408.6L165.3 408.8L165.8 408.7L166.3 408.2L166.8 407.4L167.3 406.4L167.8 405.2L168.3 403.7M171.8 370.9L172.3 370.9M175.1 391.4L175.6 392.5L176.1 393.4L176.6 394.1L177.1 394.4L177.6 394.4L178.1 393.6L178.6 392.2M181.6 353.3L182.1 354.2M184.8 384.9L185.3 386.1L185.8 386.8L186.3 386.6L186.8 385.6M190.8 335.4L191.3 335.7M194.3 378.0L194.8 379.4L195.3 379.8L195.8 379.2L196.3 377.9M199.6 333.4L200.1 332.1M203.3 373.8L203.8 375.2L204.3 375.7L204.8 375.3L205.3 374.0M208.6 330.8L209.1 332.1M212.1 372.5L212.6 373.8L213.1 374.3L213.6 373.8L214.1 372.5M217.1 333.8L217.6 335.2M220.6 374.9L221.1 376.2L221.6 376.5L222.1 375.9L222.6 374.6M225.6 339.2L226.1 338.3M229.1 379.0L229.6 380.5L230.1 381.2L230.6 380.9L231.1 379.8M234.1 345.7L234.6 344.8M237.8 390.3L238.3 391.6L238.8 391.8L239.3 391.0M247.1 401.9L247.6 402.7L248.1 402.0M252.1 363.1L252.6 364.0M256.4 410.0L256.9 411.0L257.4 410.3M261.1 377.2L261.6 375.9M265.6 416.8L266.1 418.2L266.6 417.6M270.4 388.3L270.9 387.2M275.4 423.5L275.9 424.3L276.4 423.3M279.9 399.3L280.4 398.0L280.9 399.0M284.6 428.3L285.1 429.0L285.6 428.1M289.1 409.1L289.6 408.0L290.1 408.5M294.1 431.7L294.6 433.2L295.1 433.6L295.6 432.8L296.1 431.5M298.6 419.3L299.1 417.9L299.6 417.2L300.1 417.8L300.6 419.3M303.9 435.7L304.4 437.0L304.9 437.6L305.4 437.3L305.9 436.3L306.4 435.2M308.4 427.3L308.9 426.1L309.4 425.4L309.9 425.6L310.4 426.7M312.9 437.7L313.4 439.0L313.9 440.2L314.4 440.7L314.9 440.5L315.4 439.8L315.9 439.0L316.4 437.8L316.9 436.4M317.4 434.8L317.9 433.3L318.4 432.6L318.9 432.3L319.4 432.7L319.9 433.6L320.4 434.7L320.9 435.8L321.4 437.3" stroke="#6c6c6c" stroke-width="2.9" fill="none" stroke-linejoin="round" stroke-linecap="round"/>
<path d="M104.8 402.4L105.3 400.7M110.6 340.8L111.1 343.2M114.1 368.1L114.6 370.1L115.1 371.7M116.1 372.4L116.6 370.0M125.1 349.7L125.6 352.2L126.1 353.7M126.3 354.0L126.8 352.0M131.1 274.1L131.6 276.1M135.3 351.7L135.8 354.0M143.1 403.0L143.6 405.5L144.1 407.5L144.6 409.1M156.8 417.4L157.3 415.7M159.1 405.4L159.6 403.0L160.1 401.0L160.6 399.0M161.6 397.0L162.1 398.9M162.8 403.6L163.3 406.0M168.1 404.5L168.6 402.5M171.6 372.6L172.1 370.2M172.1 370.2L172.6 372.5M174.6 389.1L175.1 391.4M178.3 393.0L178.8 391.2L179.3 388.8M184.1 381.9L184.6 384.0L185.1 385.6M186.8 385.6L187.3 384.0L187.8 381.9M193.6 374.6L194.1 377.0L194.6 378.8M196.1 378.6L196.6 376.9L197.1 374.6M202.6 370.8L203.1 372.9L203.6 374.6M205.1 374.8L205.6 373.1L206.1 370.9M211.3 369.2L211.8 371.5L212.3 373.2M213.8 373.3L214.3 371.6L214.8 369.4M219.8 371.8L220.3 374.0L220.8 375.7M222.3 375.4L222.8 373.8L223.3 371.8M228.3 375.7L228.8 378.0L229.3 379.9M231.1 379.8L231.6 378.0L232.1 375.5M237.1 386.9L237.6 389.4L238.1 391.1M239.3 391.0L239.8 389.2L240.3 386.9M243.1 351.7L243.6 353.3M246.6 399.8L247.1 401.9M248.1 402.0L248.6 400.2M251.8 365.0L252.3 362.5M255.8 407.6L256.4 410.0M257.4 410.3L257.9 408.3M265.4 415.6L265.9 417.7M266.6 417.6L267.1 415.4M270.1 389.5L270.6 387.4M270.9 387.2L271.4 388.8M274.9 421.1L275.4 423.5M276.1 424.0L276.6 422.3L277.1 419.9M279.4 401.6L279.9 399.3M280.6 398.2L281.1 400.2M284.1 426.1L284.6 428.3M285.6 428.1L286.1 426.4L286.6 424.4M288.6 411.0L289.1 409.1M290.1 408.5L290.6 410.2M293.1 427.5L293.6 429.8L294.1 431.7M296.1 431.5L296.6 429.9L297.1 427.6M298.4 420.4L298.9 418.5M300.4 418.5L300.9 420.2M302.6 430.7L303.1 433.2L303.6 434.9L304.1 436.4M306.4 435.2L306.9 433.6L307.4 431.7L307.9 429.6L308.4 427.3M310.4 426.7L310.9 428.4M311.4 431.1L311.9 433.6L312.4 435.9L312.9 437.7M316.9 436.4L317.4 434.8M321.1 436.5L321.6 438.1" stroke="#6c6c6c" stroke-width="2.4" fill="none" stroke-linejoin="round" stroke-linecap="round"/>
<path d="M105.3 400.7L105.8 397.9L106.3 394.4M109.8 343.2L110.3 340.5M110.8 341.7L111.3 345.0M113.6 364.5L114.1 368.1M116.3 371.4L116.8 368.3M120.8 303.8L121.3 300.7M121.3 300.7L121.8 304.3M124.6 346.4L125.1 349.7M139.1 358.0L139.6 361.0M141.8 395.2L142.3 398.7L142.8 401.7L143.3 404.3M157.3 415.7L157.8 413.1L158.3 410.0L158.8 406.8L159.3 404.1M161.8 397.6L162.3 400.3L162.8 403.6M168.3 403.7L168.8 400.9M172.3 370.9L172.8 374.6M173.8 383.9L174.3 387.5L174.8 390.4M179.1 390.1L179.6 386.6M183.8 379.8L184.3 383.1M187.8 381.9L188.3 379.0M193.3 372.9L193.8 375.9M196.8 375.8L197.3 373.2M202.3 369.3L202.8 371.9M205.8 372.1L206.3 369.5M211.1 367.5L211.6 370.4M214.6 370.5L215.1 367.5M219.6 370.3L220.1 373.0M223.1 372.8L223.6 370.1M228.1 373.5L228.6 376.9M236.8 385.4L237.3 388.2M240.1 388.1L240.6 385.5M242.8 354.2L243.3 351.1M245.8 394.9L246.3 398.3L246.8 401.0M248.6 400.2L249.1 397.7L249.6 394.2M255.1 402.5L255.6 406.1L256.1 408.9M257.9 408.3L258.4 405.6M260.9 379.0L261.4 376.0M261.6 375.9L262.1 379.1M264.6 410.9L265.1 414.2L265.6 416.8M266.9 416.6L267.4 414.1L267.9 411.0M269.6 393.0L270.1 389.5M271.4 388.8L271.9 391.8M274.1 416.4L274.6 419.6L275.1 422.4M276.9 421.2L277.4 418.6L277.9 415.0M279.1 403.6L279.6 400.3M280.9 399.0L281.4 401.6M283.4 421.6L283.9 424.7L284.4 427.4M286.6 424.4L287.1 421.6L287.6 418.3L288.1 414.6M288.1 414.6L288.6 411.0M290.6 410.2L291.1 412.7M291.9 418.9L292.4 422.5L292.9 426.0L293.4 428.7M296.9 428.8L297.4 426.2L297.9 423.5L298.4 420.4M300.9 420.2L301.4 423.2L301.9 426.5L302.4 429.3L302.9 432.0M310.9 428.4L311.4 431.1" stroke="#6c6c6c" stroke-width="1.7" fill="none" stroke-linejoin="round" stroke-linecap="round"/>
<path d="M34.6 450.6h0M35.4 450.4h0M36.1 450.2h0M36.9 449.9h0M37.6 449.7h0M38.4 449.4h0M39.1 449.2h0M39.9 448.9h0M40.6 448.7h0M41.4 448.4h0M42.1 448.1h0M42.9 447.8h0M43.6 447.5h0M44.4 447.2h0M45.1 446.9h0M45.9 446.5h0M46.6 446.2h0M47.1 445.9h0M47.6 445.7h0M48.1 445.5h0M48.6 445.2h0M49.1 445.0h0M49.6 444.7h0M50.1 444.4h0M50.6 444.2h0M51.1 443.9h0M51.6 443.6h0M52.1 443.3h0M52.6 443.0h0M53.1 442.8h0M53.6 442.5h0M54.1 442.2h0M54.6 441.9h0M55.1 441.6h0M55.6 441.3h0M56.1 441.0h0M56.6 440.7h0M57.1 440.4h0M57.6 440.1h0M58.1 439.8h0M58.6 439.5h0M59.1 439.2h0M59.6 438.9h0M60.1 438.6h0M60.6 438.3h0M61.1 438.1h0M61.6 437.8h0M62.1 437.5h0M62.6 437.2h0M63.1 436.9h0M63.6 436.6h0M64.1 436.3h0M64.6 436.0h0M65.1 435.7h0M65.6 435.4h0M66.1 435.1h0M66.6 434.8h0M67.1 434.4h0M67.6 434.1h0M68.1 433.8h0M68.6 433.5h0M69.1 433.2h0M69.6 432.9h0M70.1 432.6h0M70.6 432.2h0M71.1 431.9h0M71.6 431.6h0M72.1 431.3h0M72.6 430.9h0M73.1 430.6h0M73.6 430.3h0M74.1 429.9h0M74.6 429.6h0M75.1 429.2h0M75.6 428.9h0M76.1 428.5h0M76.6 428.2h0M77.1 427.8h0M77.6 427.4h0M78.1 427.0h0M78.6 426.7h0M79.1 426.3h0M79.6 425.9h0M80.1 425.5h0M80.6 425.2h0M81.1 424.8h0M81.6 424.4h0M82.1 424.1h0M82.6 423.7h0M83.1 423.3h0M83.6 423.0h0M84.1 422.6h0M84.6 422.3h0M85.1 421.9h0M85.6 421.5h0M86.1 421.1h0M86.6 420.7h0M87.1 420.4h0M87.6 420.0h0M88.1 419.6h0M88.6 419.2h0M89.1 418.8h0M89.6 418.4h0M90.1 417.9h0M90.6 417.5h0M91.1 417.1h0M91.6 416.7h0M92.1 416.3h0M92.6 415.9h0M93.1 415.4h0M93.6 415.0h0M94.1 414.6h0M94.6 414.1h0M95.1 413.7h0M95.6 413.3h0M96.1 412.8h0M96.6 412.4h0M97.1 411.9h0M97.6 411.4h0M98.1 411.0h0M98.6 410.5h0M99.1 410.0h0M99.6 409.5h0M100.1 409.0h0M100.6 408.5h0M101.1 408.0h0M101.6 407.5h0M102.1 407.0h0M102.6 406.3h0M103.1 405.7h0M103.6 404.9h0M104.1 404.1h0M104.6 403.1h0M104.8 402.4h0M105.1 401.7h0M105.3 400.7h0M105.6 399.4h0M105.8 397.9h0M106.1 396.3h0M106.3 394.4h0M106.6 392.2h0M106.8 389.4h0M107.1 386.2h0M107.3 382.7h0M107.6 378.8h0M107.8 374.0h0M108.1 368.8h0M108.3 363.8h0M108.6 359.4h0M108.8 355.9h0M109.1 352.4h0M109.3 349.0h0M109.6 345.8h0M109.8 343.2h0M110.1 341.4h0M110.3 340.5h0M110.8 341.7h0M111.1 343.2h0M111.3 345.0h0M111.6 347.1h0M111.8 349.2h0M112.1 351.3h0M112.3 353.1h0M112.6 355.3h0M112.8 357.6h0M113.1 360.0h0M113.3 362.3h0M113.6 364.5h0M113.8 366.5h0M114.1 368.1h0M114.3 369.2h0M114.6 370.1h0M114.8 371.0h0M115.1 371.7h0M115.3 372.3h0M115.8 372.8h0M116.3 371.4h0M116.6 370.0h0M116.8 368.3h0M117.1 366.4h0M117.3 364.2h0M117.6 362.0h0M117.8 359.2h0M118.1 355.5h0M118.3 351.0h0M118.6 346.0h0M118.8 340.7h0M119.1 335.4h0M119.3 330.2h0M119.6 325.4h0M119.8 321.2h0M120.1 316.7h0M120.3 312.0h0M120.6 307.5h0M120.8 303.8h0M121.1 301.4h0M121.3 300.7h0M121.6 301.9h0M121.8 304.3h0M122.1 307.6h0M122.3 311.4h0M122.6 315.2h0M122.8 318.7h0M123.1 322.4h0M123.3 326.7h0M123.6 331.2h0M123.8 335.7h0M124.1 339.9h0M124.3 343.6h0M124.6 346.4h0M124.8 348.3h0M125.1 349.7h0M125.3 351.0h0M125.6 352.2h0M125.8 353.1h0M126.1 353.7h0M126.8 352.0h0M127.1 349.5h0M127.3 346.3h0M127.6 342.8h0M127.8 339.3h0M128.1 334.5h0M128.3 328.2h0M128.6 321.1h0M128.8 313.7h0M129.1 306.5h0M129.3 300.1h0M129.6 295.0h0M129.8 290.6h0M130.1 286.1h0M130.3 281.9h0M130.6 278.2h0M130.8 275.6h0M131.1 274.1h0M131.6 276.1h0M131.8 279.2h0M132.1 283.1h0M132.3 287.6h0M132.6 292.3h0M132.8 296.9h0M133.1 302.3h0M133.3 308.8h0M133.6 315.7h0M133.8 322.7h0M134.1 329.3h0M134.3 335.0h0M134.6 339.9h0M134.8 344.8h0M135.1 349.0h0M135.3 351.7h0M135.6 353.0h0M135.8 354.0h0M136.1 354.8h0M136.3 355.3h0M136.8 355.8h0M137.3 356.0h0M138.1 356.4h0M138.6 357.0h0M139.1 358.0h0M139.3 358.8h0M139.6 361.0h0M139.8 365.8h0M140.1 371.1h0M140.3 375.7h0M140.6 380.2h0M140.8 384.5h0M141.1 388.0h0M141.3 390.7h0M141.6 393.1h0M141.8 395.2h0M142.1 397.0h0M142.3 398.7h0M142.6 400.2h0M142.8 401.7h0M143.1 403.0h0M143.3 404.3h0M143.6 405.5h0M143.8 406.5h0M144.1 407.5h0M144.3 408.3h0M144.6 409.1h0M144.8 409.8h0M145.1 410.6h0M145.3 411.3h0M145.6 411.9h0M145.8 412.5h0M146.1 413.1h0M146.3 413.6h0M146.8 414.3h0M147.3 414.8h0M147.8 415.1h0M148.6 415.4h0M149.3 415.6h0M150.1 415.9h0M150.6 416.4h0M151.1 417.0h0M151.6 417.7h0M152.1 418.5h0M152.6 419.2h0M153.1 420.1h0M153.6 420.9h0M154.1 421.5h0M154.6 421.8h0M155.1 421.5h0M155.6 420.7h0M155.8 420.2h0M156.1 419.5h0M156.3 418.9h0M156.6 418.2h0M156.8 417.4h0M157.1 416.7h0M157.3 415.7h0M157.6 414.5h0M157.8 413.1h0M158.1 411.6h0M158.3 410.0h0M158.6 408.4h0M158.8 406.8h0M159.1 405.4h0M159.3 404.1h0M159.6 403.0h0M159.8 402.0h0M160.1 401.0h0M160.3 400.0h0M160.6 399.0h0M160.8 398.2h0M161.1 397.6h0M161.6 397.0h0M161.8 397.6h0M162.1 398.9h0M162.3 400.3h0M162.6 402.0h0M162.8 403.6h0M163.1 404.9h0M163.3 406.0h0M163.6 406.9h0M163.8 407.5h0M164.3 408.1h0M164.8 408.6h0M165.6 408.8h0M166.1 408.5h0M166.6 407.8h0M167.1 406.9h0M167.3 406.4h0M167.6 405.8h0M167.8 405.2h0M168.1 404.5h0M168.3 403.7h0M168.6 402.5h0M168.8 400.9h0M169.1 399.0h0M169.3 396.9h0M169.6 394.6h0M169.8 392.3h0M170.1 389.6h0M170.3 386.4h0M170.6 383.2h0M170.8 380.3h0M171.1 377.7h0M171.3 375.1h0M171.6 372.6h0M171.8 370.9h0M172.1 370.2h0M172.3 370.9h0M172.6 372.5h0M172.8 374.6h0M173.1 376.6h0M173.3 379.0h0M173.6 381.6h0M173.8 383.9h0M174.1 385.7h0M174.3 387.5h0M174.6 389.1h0M174.8 390.4h0M175.1 391.4h0M175.3 392.0h0M175.6 392.5h0M176.1 393.4h0M176.6 394.1h0M177.1 394.4h0M177.8 394.1h0M178.3 393.0h0M178.6 392.2h0M178.8 391.2h0M179.1 390.1h0M179.3 388.8h0M179.6 386.6h0M179.8 383.5h0M180.1 379.8h0M180.3 376.0h0M180.6 371.0h0M180.8 365.7h0M181.1 361.2h0M181.3 356.8h0M181.6 353.3h0M181.8 352.3h0M182.1 354.2h0M182.3 357.8h0M182.6 361.5h0M182.8 365.8h0M183.1 370.4h0M183.3 373.9h0M183.6 377.0h0M183.8 379.8h0M184.1 381.9h0M184.3 383.1h0M184.6 384.0h0M184.8 384.9h0M185.1 385.6h0M185.3 386.1h0M185.8 386.8h0M186.6 386.2h0M186.8 385.6h0M187.1 384.9h0M187.3 384.0h0M187.6 383.0h0M187.8 381.9h0M188.1 380.7h0M188.3 379.0h0M188.6 376.3h0M188.8 372.8h0M189.1 368.9h0M189.3 364.8h0M189.6 359.9h0M189.8 354.1h0M190.1 348.6h0M190.3 343.9h0M190.6 339.2h0M190.8 335.4h0M191.1 333.8h0M191.3 335.7h0M191.6 340.2h0M191.8 345.2h0M192.1 350.7h0M192.3 356.8h0M192.6 361.7h0M192.8 366.0h0M193.1 369.9h0M193.3 372.9h0M193.6 374.6h0M193.8 375.9h0M194.1 377.0h0M194.3 378.0h0M194.6 378.8h0M194.8 379.4h0M195.3 379.8h0M195.8 379.2h0M196.1 378.6h0M196.3 377.9h0M196.6 376.9h0M196.8 375.8h0M197.1 374.6h0M197.3 373.2h0M197.6 370.7h0M197.8 367.2h0M198.1 363.3h0M198.3 359.1h0M198.6 353.8h0M198.8 347.8h0M199.1 342.7h0M199.3 337.8h0M199.6 333.4h0M199.8 331.1h0M200.1 332.1h0M200.3 335.7h0M200.6 340.3h0M200.8 344.8h0M201.1 350.3h0M201.3 355.6h0M201.6 359.6h0M201.8 363.4h0M202.1 366.8h0M202.3 369.3h0M202.6 370.8h0M202.8 371.9h0M203.1 372.9h0M203.3 373.8h0M203.6 374.6h0M203.8 375.2h0M204.3 375.7h0M204.8 375.3h0M205.1 374.8h0M205.3 374.0h0M205.6 373.1h0M205.8 372.1h0M206.1 370.9h0M206.3 369.5h0M206.6 367.1h0M206.8 363.7h0M207.1 359.7h0M207.3 355.5h0M207.6 350.1h0M207.8 344.3h0M208.1 339.4h0M208.3 334.6h0M208.6 330.8h0M208.8 329.7h0M209.1 332.1h0M209.3 336.5h0M209.6 341.2h0M209.8 346.6h0M210.1 352.4h0M210.3 357.0h0M210.6 361.0h0M210.8 364.7h0M211.1 367.5h0M211.3 369.2h0M211.6 370.4h0M211.8 371.5h0M212.1 372.5h0M212.3 373.2h0M212.6 373.8h0M213.1 374.3h0M213.6 373.8h0M213.8 373.3h0M214.1 372.5h0M214.3 371.6h0M214.6 370.5h0M214.8 369.4h0M215.1 367.5h0M215.3 364.6h0M215.6 361.0h0M215.8 357.1h0M216.1 352.4h0M216.3 346.8h0M216.6 342.1h0M216.8 337.5h0M217.1 333.8h0M217.3 332.7h0M217.6 335.2h0M217.8 339.7h0M218.1 344.4h0M218.3 349.9h0M218.6 355.6h0M218.8 360.1h0M219.1 364.1h0M219.3 367.7h0M219.6 370.3h0M219.8 371.8h0M220.1 373.0h0M220.3 374.0h0M220.6 374.9h0M220.8 375.7h0M221.1 376.2h0M221.6 376.5h0M222.1 375.9h0M222.3 375.4h0M222.6 374.6h0M222.8 373.8h0M223.1 372.8h0M223.3 371.8h0M223.6 370.1h0M223.8 367.5h0M224.1 364.2h0M224.3 360.7h0M224.6 356.6h0M224.8 351.6h0M225.1 347.1h0M225.3 343.0h0M225.6 339.2h0M225.8 337.2h0M226.1 338.3h0M226.3 342.1h0M226.6 346.8h0M226.8 351.6h0M227.1 357.4h0M227.3 362.5h0M227.6 366.5h0M227.8 370.3h0M228.1 373.5h0M228.3 375.7h0M228.6 376.9h0M228.8 378.0h0M229.1 379.0h0M229.3 379.9h0M229.6 380.5h0M230.1 381.2h0M230.6 380.9h0M231.1 379.8h0M231.3 379.0h0M231.6 378.0h0M231.8 376.9h0M232.1 375.5h0M232.3 373.1h0M232.6 370.0h0M232.8 366.5h0M233.1 362.7h0M233.3 357.8h0M233.6 353.3h0M233.8 349.4h0M234.1 345.7h0M234.3 343.7h0M234.6 344.8h0M234.8 348.8h0M235.1 353.8h0M235.3 358.8h0M235.6 365.0h0M235.8 370.6h0M236.1 375.1h0M236.3 379.3h0M236.6 382.9h0M236.8 385.4h0M237.1 386.9h0M237.3 388.2h0M237.6 389.4h0M237.8 390.3h0M238.1 391.1h0M238.3 391.6h0M238.8 391.8h0M239.3 391.0h0M239.6 390.2h0M239.8 389.2h0M240.1 388.1h0M240.3 386.9h0M240.6 385.5h0M240.8 383.3h0M241.1 380.4h0M241.3 377.1h0M241.6 373.6h0M241.8 369.7h0M242.1 365.1h0M242.3 360.9h0M242.6 357.6h0M242.8 354.2h0M243.1 351.7h0M243.3 351.1h0M243.6 353.3h0M243.8 357.4h0M244.1 361.9h0M244.3 367.1h0M244.6 373.3h0M244.8 378.9h0M245.1 383.5h0M245.3 388.0h0M245.6 392.0h0M245.8 394.9h0M246.1 396.7h0M246.3 398.3h0M246.6 399.8h0M246.8 401.0h0M247.1 401.9h0M247.3 402.5h0M248.1 402.0h0M248.3 401.2h0M248.6 400.2h0M248.8 399.0h0M249.1 397.7h0M249.3 396.3h0M249.6 394.2h0M249.8 391.6h0M250.1 388.5h0M250.3 385.2h0M250.6 381.9h0M250.8 377.9h0M251.1 373.8h0M251.3 370.3h0M251.6 367.6h0M251.8 365.0h0M252.1 363.1h0M252.3 362.5h0M252.6 364.0h0M252.8 366.8h0M253.1 370.2h0M253.3 373.8h0M253.6 378.6h0M253.8 383.7h0M254.1 388.2h0M254.3 392.2h0M254.6 396.1h0M254.8 399.7h0M255.1 402.5h0M255.3 404.4h0M255.6 406.1h0M255.8 407.6h0M256.1 408.9h0M256.4 410.0h0M256.6 410.7h0M257.4 410.3h0M257.6 409.4h0M257.9 408.3h0M258.1 407.0h0M258.4 405.6h0M258.6 404.1h0M258.9 401.9h0M259.1 399.3h0M259.4 396.4h0M259.6 393.6h0M259.9 390.4h0M260.1 386.9h0M260.4 383.6h0M260.6 381.0h0M260.9 379.0h0M261.1 377.2h0M261.4 376.0h0M261.9 377.1h0M262.1 379.1h0M262.4 381.4h0M262.6 384.1h0M262.9 387.8h0M263.1 392.0h0M263.4 396.0h0M263.6 399.3h0M263.9 402.7h0M264.1 405.9h0M264.4 408.8h0M264.6 410.9h0M264.9 412.6h0M265.1 414.2h0M265.4 415.6h0M265.6 416.8h0M265.9 417.7h0M266.4 418.1h0M266.6 417.6h0M266.9 416.6h0M267.1 415.4h0M267.4 414.1h0M267.6 412.7h0M267.9 411.0h0M268.1 408.9h0M268.4 406.5h0M268.6 404.0h0M268.9 401.6h0M269.1 398.8h0M269.4 395.7h0M269.6 393.0h0M269.9 390.9h0M270.1 389.5h0M270.4 388.3h0M270.6 387.4h0M271.1 387.7h0M271.4 388.8h0M271.6 390.2h0M271.9 391.8h0M272.1 394.1h0M272.4 397.1h0M272.6 400.4h0M272.9 403.6h0M273.1 406.3h0M273.4 409.1h0M273.6 411.8h0M273.9 414.3h0M274.1 416.4h0M274.4 418.1h0M274.6 419.6h0M274.9 421.1h0M275.1 422.4h0M275.4 423.5h0M275.6 424.1h0M276.4 423.3h0M276.6 422.3h0M276.9 421.2h0M277.1 419.9h0M277.4 418.6h0M277.6 417.0h0M277.9 415.0h0M278.1 412.9h0M278.4 410.8h0M278.6 408.6h0M278.9 406.1h0M279.1 403.6h0M279.4 401.6h0M279.6 400.3h0M279.9 399.3h0M280.1 398.4h0M280.9 399.0h0M281.1 400.2h0M281.4 401.6h0M281.6 403.6h0M281.9 406.3h0M282.1 409.3h0M282.4 412.1h0M282.6 414.6h0M282.9 417.1h0M283.1 419.5h0M283.4 421.6h0M283.6 423.3h0M283.9 424.7h0M284.1 426.1h0M284.4 427.4h0M284.6 428.3h0M284.9 428.9h0M285.4 428.7h0M285.6 428.1h0M285.9 427.3h0M286.1 426.4h0M286.4 425.4h0M286.6 424.4h0M286.9 423.1h0M287.1 421.6h0M287.4 419.9h0M287.6 418.3h0M287.9 416.5h0M288.1 414.6h0M288.4 412.6h0M288.6 411.0h0M288.9 410.0h0M289.1 409.1h0M289.4 408.4h0M289.9 408.1h0M290.4 409.3h0M290.6 410.2h0M290.9 411.2h0M291.1 412.7h0M291.4 414.7h0M291.6 416.8h0M291.9 418.9h0M292.1 420.8h0M292.4 422.5h0M292.6 424.3h0M292.9 426.0h0M293.1 427.5h0M293.4 428.7h0M293.6 429.8h0M293.9 430.8h0M294.1 431.7h0M294.4 432.5h0M294.6 433.2h0M295.1 433.6h0M295.6 432.8h0M295.9 432.2h0M296.1 431.5h0M296.4 430.7h0M296.6 429.9h0M296.9 428.8h0M297.1 427.6h0M297.4 426.2h0M297.6 424.9h0M297.9 423.5h0M298.1 421.9h0M298.4 420.4h0M298.6 419.3h0M298.9 418.5h0M299.1 417.9h0M299.6 417.2h0M300.1 417.8h0M300.4 418.5h0M300.6 419.3h0M300.9 420.2h0M301.1 421.6h0M301.4 423.2h0M301.6 424.9h0M301.9 426.5h0M302.1 427.9h0M302.4 429.3h0M302.6 430.7h0M302.9 432.0h0M303.1 433.2h0M303.4 434.1h0M303.6 434.9h0M303.9 435.7h0M304.1 436.4h0M304.4 437.0h0M304.9 437.6h0M305.4 437.3h0M305.9 436.3h0M306.1 435.8h0M306.4 435.2h0M306.6 434.5h0M306.9 433.6h0M307.1 432.7h0M307.4 431.7h0M307.6 430.7h0M307.9 429.6h0M308.1 428.4h0M308.4 427.3h0M308.6 426.6h0M308.9 426.1h0M309.4 425.4h0M309.9 425.6h0M310.4 426.7h0M310.6 427.4h0M310.9 428.4h0M311.1 429.7h0M311.4 431.1h0M311.6 432.4h0M311.9 433.6h0M312.1 434.7h0M312.4 435.9h0M312.6 436.9h0M312.9 437.7h0M313.1 438.4h0M313.4 439.0h0M313.6 439.6h0M313.9 440.2h0M314.4 440.7h0M314.9 440.5h0M315.4 439.8h0M315.9 439.0h0M316.1 438.4h0M316.4 437.8h0M316.6 437.1h0M316.9 436.4h0M317.1 435.6h0M317.4 434.8h0M317.6 434.0h0M317.9 433.3h0M318.4 432.6h0M318.9 432.3h0M319.4 432.7h0M319.9 433.6h0M320.1 434.1h0M320.4 434.7h0M320.6 435.2h0M320.9 435.8h0M321.1 436.5h0M321.4 437.3h0M321.6 438.1h0M321.9 439.0h0" stroke="#666" stroke-width="2.35" stroke-linecap="round" fill="none"/>
<text x="104.40" y="277.00" font-size="10.6" text-anchor="middle" >A</text>
<path d="M104.40 280.80V296.80" stroke="#1a1a1a" stroke-width="0.8" fill="none"/>
<path d="M102.25 294.10L104.40 297.40L106.55 294.10" fill="none" stroke="#1a1a1a" stroke-width="0.95" stroke-linejoin="miter"/>
<text x="96.80" y="303.20" font-size="10.6" text-anchor="middle" >B</text>
<path d="M96.80 306.90V322.80" stroke="#1a1a1a" stroke-width="0.8" fill="none"/>
<path d="M94.65 320.10L96.80 323.40L98.95 320.10" fill="none" stroke="#1a1a1a" stroke-width="0.95" stroke-linejoin="miter"/>
<text x="79.30" y="343.10" font-size="10.6" text-anchor="middle" >C</text>
<path d="M79.30 346.20V363.20" stroke="#1a1a1a" stroke-width="0.8" fill="none"/>
<path d="M77.15 360.50L79.30 363.80L81.45 360.50" fill="none" stroke="#1a1a1a" stroke-width="0.95" stroke-linejoin="miter"/>
<text x="57.50" y="386.40" font-size="10.6" text-anchor="middle" >D</text>
<path d="M57.50 389.50V405.40" stroke="#1a1a1a" stroke-width="0.8" fill="none"/>
<path d="M55.35 402.70L57.50 406.00L59.65 402.70" fill="none" stroke="#1a1a1a" stroke-width="0.95" stroke-linejoin="miter"/>
<text x="130.30" y="268.60" font-size="10.6" text-anchor="middle" >3</text>
<text x="121.30" y="296.00" font-size="10.6" text-anchor="middle" >2</text>
<text x="110.50" y="336.20" font-size="10.6" text-anchor="middle" >1</text>
<text x="140.30" y="350.20" font-size="10.6" text-anchor="middle" >4</text>
<path d="M216.4 288.4h11.2" stroke="#0a0a0a" stroke-width="1.2"/>
<text x="233.0" y="290.0" font-size="10.6" text-anchor="start">V<tspan font-size="6.4" dy="3.4" stroke-width="0.05">1Q</tspan></text>
<path d="M216.4 302.2h11.2" stroke="#0a0a0a" stroke-width="1.1" stroke-dasharray="4.4 2"/>
<text x="233.0" y="303.8" font-size="10.6" text-anchor="start">V<tspan font-size="6.4" dy="3.4" stroke-width="0.05">2Q</tspan></text>
<path d="M216.4 316.5h11.2" stroke="#0a0a0a" stroke-width="1.1" stroke-dasharray="3.2 1.3 1 1.3"/>
<text x="233.0" y="318.1" font-size="10.6" text-anchor="start">V<tspan font-size="6.4" dy="3.4" stroke-width="0.05">3Q</tspan></text>
<path d="M258.6 288.4h11.2" stroke="#4a4a4a" stroke-width="0.85"/>
<text x="275.2" y="290.0" font-size="10.6" text-anchor="start">V<tspan font-size="6.4" dy="3.4" stroke-width="0.05">1D</tspan></text>
<path d="M258.6 302.4h11.2" stroke="#3a3a3a" stroke-width="0.9" stroke-dasharray="3 1.6"/>
<text x="275.2" y="304.0" font-size="10.6" text-anchor="start">V<tspan font-size="6.4" dy="3.4" stroke-width="0.05">2D</tspan></text>
<path d="M258.6 316.5h11.2" stroke="#2e2e2e" stroke-width="0.95" stroke-dasharray="3.2 1.3 1 1.3"/>
<text x="275.2" y="318.1" font-size="10.6" text-anchor="start">V<tspan font-size="6.4" dy="3.4" stroke-width="0.05">3D</tspan></text>
<path d="M258.6 327.5h11.2" stroke="#555" stroke-width="0.7"/>
<text x="275.2" y="331.1" font-size="10.3" text-anchor="start">Total</text>
<path d="M261.5 327.5h0M264.2 327.5h0M266.9 327.5h0" stroke="#6a6a6a" stroke-width="2.4" stroke-linecap="round"/>
</svg>
</body></html>
